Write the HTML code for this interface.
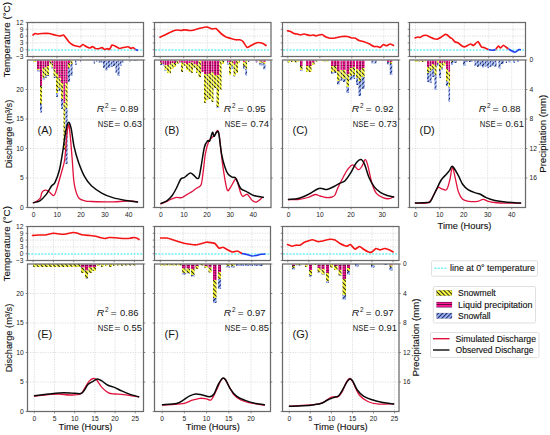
<!DOCTYPE html>
<html><head><meta charset="utf-8"><style>
html,body{margin:0;padding:0;background:#fff;width:550px;height:435px;overflow:hidden}
svg{display:block}

</style></head><body>
<svg width="550" height="435" viewBox="0 0 550 435">
<defs>
<pattern id="pY" patternUnits="userSpaceOnUse" width="3" height="3" patternTransform="rotate(-45)">
<rect width="3" height="3" fill="#fafa3c"/><rect x="0" y="0" width="0.95" height="3" fill="#1a1a1a"/></pattern>
<pattern id="pM" patternUnits="userSpaceOnUse" width="2.5" height="2.5">
<rect width="2.5" height="2.5" fill="#ff1a9a"/><rect x="0" y="0" width="2.5" height="0.55" fill="#2a0015" opacity="0.85"/><rect x="0" y="0" width="0.5" height="2.5" fill="#2a0015" opacity="0.65"/></pattern>
<pattern id="pB" patternUnits="userSpaceOnUse" width="3" height="3" patternTransform="rotate(45)">
<rect width="3" height="3" fill="#a0b6ff"/><rect x="0" y="0" width="1.1" height="3" fill="#1b2a5a"/></pattern>
<pattern id="pMl" patternUnits="userSpaceOnUse" width="16" height="2.6">
<rect width="16" height="2.6" fill="#ff1a9a"/><rect x="0" y="0" width="16" height="0.8" fill="#3a0020"/></pattern>

<clipPath id="ctA"><rect x="27.5" y="22.5" width="116" height="34"/></clipPath>
<clipPath id="cqA"><rect x="27.5" y="60" width="116" height="147.5"/></clipPath>
<clipPath id="ctB"><rect x="154.5" y="22.5" width="116.5" height="34"/></clipPath>
<clipPath id="cqB"><rect x="154.5" y="60" width="116.5" height="147.5"/></clipPath>
<clipPath id="ctC"><rect x="282.5" y="22.5" width="116" height="34"/></clipPath>
<clipPath id="cqC"><rect x="282.5" y="60" width="116" height="147.5"/></clipPath>
<clipPath id="ctD"><rect x="409.5" y="22.5" width="116" height="34"/></clipPath>
<clipPath id="cqD"><rect x="409.5" y="60" width="116" height="147.5"/></clipPath>
<clipPath id="ctE"><rect x="27.5" y="226.5" width="116" height="34"/></clipPath>
<clipPath id="cqE"><rect x="27.5" y="264" width="116" height="147.5"/></clipPath>
<clipPath id="ctF"><rect x="154.5" y="226.5" width="116" height="34"/></clipPath>
<clipPath id="cqF"><rect x="154.5" y="264" width="116" height="147.5"/></clipPath>
<clipPath id="ctG"><rect x="282.5" y="226.5" width="116.5" height="34"/></clipPath>
<clipPath id="cqG"><rect x="282.5" y="264" width="116.5" height="147.5"/></clipPath>
</defs>
<rect width="550" height="435" fill="#fff"/>
<g stroke="#d8d8d8" stroke-width="0.8" stroke-dasharray="1.3,1.2"><line x1="27.5" y1="29.3" x2="143.5" y2="29.3"/><line x1="27.5" y1="36.1" x2="143.5" y2="36.1"/><line x1="27.5" y1="42.9" x2="143.5" y2="42.9"/><line x1="32.8" y1="22.5" x2="32.8" y2="56.5"/><line x1="56.9" y1="22.5" x2="56.9" y2="56.5"/><line x1="81" y1="22.5" x2="81" y2="56.5"/><line x1="105.1" y1="22.5" x2="105.1" y2="56.5"/><line x1="129.2" y1="22.5" x2="129.2" y2="56.5"/></g>
<line x1="28" y1="50" x2="143" y2="50" stroke="#70f0f4" stroke-width="1.6" stroke-dasharray="2,1.3"/>
<clipPath id="csAr"><rect x="27.5" y="19.5" width="108" height="40"/><rect x="999" y="19.5" width="-439" height="40"/></clipPath>
<path d="M32.5,35.5 C32.67,35.37 34.67,33.6 35,33.5 C35.33,33.4 37.03,34 37.5,34 C37.97,34 41.23,33.53 42,33.5 C42.77,33.47 48.13,33.4 49,33.5 C49.87,33.6 54.27,34.83 55,35 C55.73,35.17 59.43,36 60,36 C60.57,36 63.1,34.87 63.5,35 C63.9,35.13 65.63,37.53 66,38 C66.37,38.47 68.53,41.53 69,42 C69.47,42.47 72.53,44.73 73,45 C73.47,45.27 75.53,45.88 76,46 C76.47,46.12 79.53,46.9 80,46.8 C80.47,46.7 82.57,44.5 83,44.5 C83.43,44.5 86.03,46.57 86.5,46.8 C86.97,47.03 89.6,48.02 90,48 C90.4,47.98 92.13,46.47 92.5,46.5 C92.87,46.53 95.03,48.37 95.5,48.5 C95.97,48.63 99.07,48.57 99.5,48.5 C99.93,48.43 101.67,47.43 102,47.5 C102.33,47.57 104.13,49.43 104.5,49.5 C104.87,49.57 107.17,48.5 107.5,48.5 C107.83,48.5 109.2,49.73 109.5,49.5 C109.8,49.27 111.63,45.23 112,45 C112.37,44.77 114.5,45.77 115,46 C115.5,46.23 118.93,48.4 119.5,48.5 C120.07,48.6 122.93,47.61 123.5,47.5 C124.07,47.39 127.5,46.73 128,46.8 C128.5,46.87 130.67,48.45 131,48.5 C131.33,48.55 132.7,47.43 133,47.5 C133.3,47.57 135.17,49.3 135.5,49.5 C135.83,49.7 137.83,50.43 138,50.5" fill="none" stroke="#f51414" stroke-width="1.65" stroke-linejoin="round" stroke-linecap="butt" clip-path="url(#csAr)"/>
<clipPath id="csAb"><rect x="135.5" y="19.5" width="424.5" height="40"/></clipPath>
<path d="M32.5,35.5 C32.67,35.37 34.67,33.6 35,33.5 C35.33,33.4 37.03,34 37.5,34 C37.97,34 41.23,33.53 42,33.5 C42.77,33.47 48.13,33.4 49,33.5 C49.87,33.6 54.27,34.83 55,35 C55.73,35.17 59.43,36 60,36 C60.57,36 63.1,34.87 63.5,35 C63.9,35.13 65.63,37.53 66,38 C66.37,38.47 68.53,41.53 69,42 C69.47,42.47 72.53,44.73 73,45 C73.47,45.27 75.53,45.88 76,46 C76.47,46.12 79.53,46.9 80,46.8 C80.47,46.7 82.57,44.5 83,44.5 C83.43,44.5 86.03,46.57 86.5,46.8 C86.97,47.03 89.6,48.02 90,48 C90.4,47.98 92.13,46.47 92.5,46.5 C92.87,46.53 95.03,48.37 95.5,48.5 C95.97,48.63 99.07,48.57 99.5,48.5 C99.93,48.43 101.67,47.43 102,47.5 C102.33,47.57 104.13,49.43 104.5,49.5 C104.87,49.57 107.17,48.5 107.5,48.5 C107.83,48.5 109.2,49.73 109.5,49.5 C109.8,49.27 111.63,45.23 112,45 C112.37,44.77 114.5,45.77 115,46 C115.5,46.23 118.93,48.4 119.5,48.5 C120.07,48.6 122.93,47.61 123.5,47.5 C124.07,47.39 127.5,46.73 128,46.8 C128.5,46.87 130.67,48.45 131,48.5 C131.33,48.55 132.7,47.43 133,47.5 C133.3,47.57 135.17,49.3 135.5,49.5 C135.83,49.7 137.83,50.43 138,50.5" fill="none" stroke="#1f3ff0" stroke-width="1.65" stroke-linejoin="round" stroke-linecap="butt" clip-path="url(#csAb)"/>
<rect x="27.5" y="22.5" width="116" height="34" fill="none" stroke="#6a6a6a" stroke-width="1.25"/>
<g stroke="#6a6a6a" stroke-width="0.8"><line x1="25.7" y1="22.5" x2="27.5" y2="22.5"/><line x1="25.7" y1="29.3" x2="27.5" y2="29.3"/><line x1="25.7" y1="36.1" x2="27.5" y2="36.1"/><line x1="25.7" y1="42.9" x2="27.5" y2="42.9"/><line x1="25.7" y1="49.7" x2="27.5" y2="49.7"/><line x1="25.7" y1="56.5" x2="27.5" y2="56.5"/><line x1="32.8" y1="56.5" x2="32.8" y2="58.3"/><line x1="56.9" y1="56.5" x2="56.9" y2="58.3"/><line x1="81" y1="56.5" x2="81" y2="58.3"/><line x1="105.1" y1="56.5" x2="105.1" y2="58.3"/><line x1="129.2" y1="56.5" x2="129.2" y2="58.3"/></g>
<g font-family="Liberation Sans, sans-serif" font-size="6.7" fill="#222"><text x="23.5" y="24.8" text-anchor="end">12</text><text x="23.5" y="31.6" text-anchor="end">9</text><text x="23.5" y="38.4" text-anchor="end">6</text><text x="23.5" y="45.2" text-anchor="end">3</text><text x="23.5" y="52" text-anchor="end">0</text><text x="23.5" y="58.8" text-anchor="end">−3</text></g>
<g stroke="#d8d8d8" stroke-width="0.8" stroke-dasharray="1.3,1.2"><line x1="27.5" y1="178" x2="143.5" y2="178"/><line x1="27.5" y1="148.5" x2="143.5" y2="148.5"/><line x1="27.5" y1="119" x2="143.5" y2="119"/><line x1="27.5" y1="89.5" x2="143.5" y2="89.5"/><line x1="33.5" y1="60" x2="33.5" y2="207.5"/><line x1="57.3" y1="60" x2="57.3" y2="207.5"/><line x1="81.1" y1="60" x2="81.1" y2="207.5"/><line x1="104.9" y1="60" x2="104.9" y2="207.5"/><line x1="128.7" y1="60" x2="128.7" y2="207.5"/></g>
<g clip-path="url(#cqA)"><rect x="33.5" y="60.5" width="2.55" height="1.5" fill="url(#pY)"/><rect x="37" y="60.5" width="2.55" height="8.5" fill="url(#pM)"/><rect x="37" y="69" width="2.55" height="1" fill="url(#pY)"/><rect x="37" y="70" width="2.55" height="1.5" fill="url(#pB)"/><rect x="40" y="60.5" width="2.05" height="25.5" fill="url(#pM)"/><rect x="40" y="86" width="2.05" height="18" fill="url(#pY)"/><rect x="40" y="104" width="2.05" height="8.5" fill="url(#pB)"/><rect x="42.5" y="60.5" width="2.05" height="7.5" fill="url(#pM)"/><rect x="42.5" y="68" width="2.05" height="10" fill="url(#pY)"/><rect x="42.5" y="78" width="2.05" height="1.5" fill="url(#pB)"/><rect x="45" y="60.5" width="1.55" height="6.5" fill="url(#pM)"/><rect x="45" y="67" width="1.55" height="9" fill="url(#pY)"/><rect x="45" y="76" width="1.55" height="2" fill="url(#pB)"/><rect x="47" y="60.5" width="2.05" height="5.5" fill="url(#pM)"/><rect x="47" y="66" width="2.05" height="9" fill="url(#pY)"/><rect x="47" y="75" width="2.05" height="1" fill="url(#pB)"/><rect x="49.5" y="60.5" width="1.55" height="4.1" fill="url(#pY)"/><rect x="51.5" y="60.5" width="1.55" height="2.5" fill="url(#pM)"/><rect x="51.5" y="63" width="1.55" height="4.5" fill="url(#pY)"/><rect x="51.5" y="67.5" width="1.55" height="1" fill="url(#pB)"/><rect x="53.5" y="60.5" width="2.05" height="8.5" fill="url(#pM)"/><rect x="53.5" y="69" width="2.05" height="7.5" fill="url(#pY)"/><rect x="53.5" y="76.5" width="2.05" height="1.5" fill="url(#pB)"/><rect x="56" y="60.5" width="2.05" height="12.5" fill="url(#pM)"/><rect x="56" y="73" width="2.05" height="20" fill="url(#pY)"/><rect x="56" y="93" width="2.05" height="4" fill="url(#pB)"/><rect x="58.5" y="60.5" width="2.05" height="17.5" fill="url(#pM)"/><rect x="58.5" y="78" width="2.05" height="10" fill="url(#pY)"/><rect x="58.5" y="88" width="2.05" height="3" fill="url(#pB)"/><rect x="61" y="60.5" width="2.05" height="22.5" fill="url(#pM)"/><rect x="61" y="83" width="2.05" height="16" fill="url(#pY)"/><rect x="61" y="99" width="2.05" height="10" fill="url(#pB)"/><rect x="63.5" y="60.5" width="1.55" height="42.5" fill="url(#pM)"/><rect x="63.5" y="103" width="1.55" height="46" fill="url(#pY)"/><rect x="63.5" y="149" width="1.55" height="1" fill="url(#pB)"/><rect x="65.5" y="60.5" width="2.05" height="22.5" fill="url(#pM)"/><rect x="65.5" y="83" width="2.05" height="25" fill="url(#pY)"/><rect x="65.5" y="108" width="2.05" height="56" fill="url(#pB)"/><rect x="68" y="60.5" width="2.05" height="2.5" fill="url(#pM)"/><rect x="68" y="63" width="2.05" height="5" fill="url(#pY)"/><rect x="68" y="68" width="2.05" height="14" fill="url(#pB)"/><rect x="70.5" y="60.5" width="2.05" height="3.5" fill="url(#pY)"/><rect x="70.5" y="64" width="2.05" height="12" fill="url(#pB)"/><rect x="75" y="60.5" width="1.55" height="4.5" fill="url(#pB)"/><rect x="80" y="60.5" width="1.05" height="1.5" fill="url(#pB)"/><rect x="93.5" y="60.5" width="1.55" height="3" fill="url(#pB)"/><rect x="96" y="60.5" width="1.55" height="1" fill="url(#pB)"/><rect x="98.5" y="60.5" width="2.05" height="2" fill="url(#pB)"/><rect x="101" y="60.5" width="1.55" height="2.5" fill="url(#pB)"/><rect x="103" y="60.5" width="2.05" height="7.5" fill="url(#pB)"/><rect x="105.5" y="60.5" width="2.05" height="10" fill="url(#pB)"/><rect x="108" y="60.5" width="2.05" height="7.5" fill="url(#pB)"/><rect x="110.5" y="60.5" width="2.05" height="6.5" fill="url(#pB)"/><rect x="113" y="60.5" width="2.05" height="5.5" fill="url(#pB)"/><rect x="115.5" y="60.5" width="1.55" height="12.5" fill="url(#pB)"/><rect x="117.5" y="60.5" width="2.05" height="15.5" fill="url(#pB)"/><rect x="120" y="60.5" width="1.55" height="5.5" fill="url(#pB)"/><rect x="122" y="60.5" width="1.55" height="2.5" fill="url(#pB)"/><rect x="129" y="60.5" width="1.55" height="1" fill="url(#pB)"/><rect x="133" y="60.5" width="4.55" height="0.5" fill="url(#pB)"/></g>
<path d="M33.4,203 C34.48,202.28 38.47,200.48 39.9,198.7 C41.33,196.92 41.12,193.73 42,192.3 C42.88,190.87 44.12,190.28 45.2,190.1 C46.28,189.92 47.07,190.3 48.5,191.2 C49.93,192.1 52.38,196.03 53.8,195.5 C55.22,194.97 55.75,191.75 57,188 C58.25,184.25 60.03,177.67 61.3,173 C62.57,168.33 63.7,166.08 64.6,160 C65.5,153.92 66.07,142.38 66.7,136.5 C67.33,130.62 67.87,125.42 68.4,124.7 C68.93,123.98 69.28,126.67 69.9,132.2 C70.52,137.73 71.38,149.32 72.1,157.9 C72.82,166.48 73.13,177.08 74.2,183.7 C75.27,190.32 76.72,194.75 78.5,197.6 C80.28,200.45 82.75,200.15 84.9,200.8 C87.05,201.45 86.75,201.32 91.4,201.5 C96.05,201.68 106.37,202.02 112.8,201.9 C119.23,201.78 125.88,200.8 130,200.8 C134.12,200.8 136.25,201.72 137.5,201.9" fill="none" stroke="#e0123c" stroke-width="1.3" stroke-linejoin="round" stroke-linecap="round" clip-path="url(#cqA)"/>
<path d="M33.4,202.6 C34.48,202.3 37.75,202.17 39.9,200.8 C42.05,199.43 44.33,196.9 46.3,194.4 C48.27,191.9 50.27,187.77 51.7,185.8 C53.13,183.83 53.65,185.1 54.9,182.6 C56.15,180.1 57.95,175.63 59.2,170.8 C60.45,165.97 61.33,160.03 62.4,153.6 C63.47,147.17 64.63,137.38 65.6,132.2 C66.57,127.02 67.3,123.22 68.2,122.5 C69.1,121.78 70,123.78 71,127.9 C72,132.02 72.95,141.48 74.2,147.2 C75.45,152.92 76.72,157.2 78.5,162.2 C80.28,167.2 82.75,173.27 84.9,177.2 C87.05,181.13 88.53,183.12 91.4,185.8 C94.27,188.48 98.53,191.33 102.1,193.3 C105.67,195.27 108.87,196.42 112.8,197.6 C116.73,198.78 121.58,199.68 125.7,200.4 C129.82,201.12 135.53,201.65 137.5,201.9" fill="none" stroke="#0a0a0a" stroke-width="1.5" stroke-linejoin="round" stroke-linecap="round" clip-path="url(#cqA)"/>
<rect x="27.5" y="60" width="116" height="147.5" fill="none" stroke="#6a6a6a" stroke-width="1.25"/>
<g stroke="#6a6a6a" stroke-width="0.8"><line x1="25.7" y1="207.5" x2="27.5" y2="207.5"/><line x1="25.7" y1="178" x2="27.5" y2="178"/><line x1="25.7" y1="148.5" x2="27.5" y2="148.5"/><line x1="25.7" y1="119" x2="27.5" y2="119"/><line x1="25.7" y1="89.5" x2="27.5" y2="89.5"/><line x1="143.5" y1="60" x2="145.3" y2="60"/><line x1="143.5" y1="89.5" x2="145.3" y2="89.5"/><line x1="143.5" y1="119" x2="145.3" y2="119"/><line x1="143.5" y1="148.5" x2="145.3" y2="148.5"/><line x1="143.5" y1="178" x2="145.3" y2="178"/><line x1="33.5" y1="207.5" x2="33.5" y2="209.3"/><line x1="57.3" y1="207.5" x2="57.3" y2="209.3"/><line x1="81.1" y1="207.5" x2="81.1" y2="209.3"/><line x1="104.9" y1="207.5" x2="104.9" y2="209.3"/><line x1="128.7" y1="207.5" x2="128.7" y2="209.3"/></g>
<g font-family="Liberation Sans, sans-serif" font-size="6.7" fill="#222"><text x="33.5" y="217.1" text-anchor="middle">0</text><text x="57.3" y="217.1" text-anchor="middle">10</text><text x="81.1" y="217.1" text-anchor="middle">20</text><text x="104.9" y="217.1" text-anchor="middle">30</text><text x="128.7" y="217.1" text-anchor="middle">40</text></g>
<g font-family="Liberation Sans, sans-serif" font-size="6.7" fill="#222"><text x="23.8" y="209.9" text-anchor="end">0</text><text x="23.8" y="180.4" text-anchor="end">5</text><text x="23.8" y="150.9" text-anchor="end">10</text><text x="23.8" y="121.4" text-anchor="end">15</text><text x="23.8" y="91.9" text-anchor="end">20</text></g>
<g font-family="Liberation Sans, sans-serif" fill="#161616">
<text font-size="9.5" font-style="italic" x="96.8" y="112" textLength="7.5" lengthAdjust="spacingAndGlyphs">R</text>
<text font-size="6.4" x="105.1" y="108.3">2</text>
<text font-size="9.5" x="111.1" y="112" fill="#6a6a6a" stroke="#6a6a6a" stroke-width="0.3" textLength="5.3" lengthAdjust="spacingAndGlyphs">=</text>
<text font-size="9.5" x="120" y="112" textLength="18.4" lengthAdjust="spacingAndGlyphs">0.89</text>
<text font-size="9" x="97.8" y="126.5" textLength="15.7" lengthAdjust="spacingAndGlyphs">NSE</text>
<text font-size="9.5" x="114.7" y="126.5" fill="#6a6a6a" stroke="#6a6a6a" stroke-width="0.3" textLength="5.3" lengthAdjust="spacingAndGlyphs">=</text>
<text font-size="9.5" x="123.5" y="126.5" textLength="18.4" lengthAdjust="spacingAndGlyphs">0.63</text>
</g>
<text font-family="Liberation Sans, sans-serif" font-size="11" fill="#161616" x="37.5" y="134">(A)</text>
<g stroke="#d8d8d8" stroke-width="0.8" stroke-dasharray="1.3,1.2"><line x1="154.5" y1="29.3" x2="271" y2="29.3"/><line x1="154.5" y1="36.1" x2="271" y2="36.1"/><line x1="154.5" y1="42.9" x2="271" y2="42.9"/><line x1="160.2" y1="22.5" x2="160.2" y2="56.5"/><line x1="183.7" y1="22.5" x2="183.7" y2="56.5"/><line x1="207.2" y1="22.5" x2="207.2" y2="56.5"/><line x1="230.7" y1="22.5" x2="230.7" y2="56.5"/><line x1="254.2" y1="22.5" x2="254.2" y2="56.5"/></g>
<line x1="155" y1="50" x2="270.5" y2="50" stroke="#70f0f4" stroke-width="1.6" stroke-dasharray="2,1.3"/>
<path d="M160,37.2 C160.4,37.02 165.13,34.91 166,34.5 C166.87,34.09 172.2,31.3 173,31 C173.8,30.7 177.47,30.03 178,30 C178.53,29.97 180.53,30.51 181,30.5 C181.47,30.49 184.47,29.8 185,29.8 C185.53,29.8 188.47,30.47 189,30.5 C189.53,30.53 192.27,30.35 193,30.2 C193.73,30.05 199.07,28.41 200,28.2 C200.93,27.99 206.2,26.95 207,27 C207.8,27.05 211.4,28.9 212,29 C212.6,29.1 215.4,28.2 216,28.5 C216.6,28.8 220.33,32.93 221,33.5 C221.67,34.07 225.33,36.67 226,37 C226.67,37.33 230.33,38.31 231,38.5 C231.67,38.69 235.43,39.71 236,39.8 C236.57,39.89 239.03,39.69 239.5,39.8 C239.97,39.91 242.5,40.99 243,41.5 C243.5,42.01 246.47,47.23 247,47.5 C247.53,47.77 250.47,45.77 251,45.5 C251.53,45.23 254.53,43.7 255,43.5 C255.47,43.3 257.47,42.5 258,42.5 C258.53,42.5 262.47,43.3 263,43.5 C263.53,43.7 265.8,45.37 266,45.5" fill="none" stroke="#f51414" stroke-width="1.65" stroke-linejoin="round" stroke-linecap="round" clip-path="url(#ctB)"/>
<rect x="154.5" y="22.5" width="116.5" height="34" fill="none" stroke="#6a6a6a" stroke-width="1.25"/>
<g stroke="#6a6a6a" stroke-width="0.8"><line x1="152.7" y1="22.5" x2="154.5" y2="22.5"/><line x1="152.7" y1="29.3" x2="154.5" y2="29.3"/><line x1="152.7" y1="36.1" x2="154.5" y2="36.1"/><line x1="152.7" y1="42.9" x2="154.5" y2="42.9"/><line x1="152.7" y1="49.7" x2="154.5" y2="49.7"/><line x1="152.7" y1="56.5" x2="154.5" y2="56.5"/><line x1="160.2" y1="56.5" x2="160.2" y2="58.3"/><line x1="183.7" y1="56.5" x2="183.7" y2="58.3"/><line x1="207.2" y1="56.5" x2="207.2" y2="58.3"/><line x1="230.7" y1="56.5" x2="230.7" y2="58.3"/><line x1="254.2" y1="56.5" x2="254.2" y2="58.3"/></g>
<g stroke="#d8d8d8" stroke-width="0.8" stroke-dasharray="1.3,1.2"><line x1="154.5" y1="178" x2="271" y2="178"/><line x1="154.5" y1="148.5" x2="271" y2="148.5"/><line x1="154.5" y1="119" x2="271" y2="119"/><line x1="154.5" y1="89.5" x2="271" y2="89.5"/><line x1="160.9" y1="60" x2="160.9" y2="207.5"/><line x1="184" y1="60" x2="184" y2="207.5"/><line x1="207.1" y1="60" x2="207.1" y2="207.5"/><line x1="230.2" y1="60" x2="230.2" y2="207.5"/><line x1="253.3" y1="60" x2="253.3" y2="207.5"/></g>
<g clip-path="url(#cqB)"><rect x="160" y="60.5" width="2.05" height="2" fill="url(#pM)"/><rect x="160" y="62.5" width="2.05" height="1.5" fill="url(#pY)"/><rect x="160" y="64" width="2.05" height="1" fill="url(#pB)"/><rect x="162.5" y="60.5" width="1.55" height="3.5" fill="url(#pM)"/><rect x="162.5" y="64" width="1.55" height="1.5" fill="url(#pB)"/><rect x="164.5" y="60.5" width="2.05" height="4.5" fill="url(#pM)"/><rect x="164.5" y="65" width="2.05" height="5" fill="url(#pY)"/><rect x="164.5" y="70" width="2.05" height="1" fill="url(#pB)"/><rect x="167" y="60.5" width="2.05" height="4.5" fill="url(#pM)"/><rect x="167" y="65" width="2.05" height="8" fill="url(#pY)"/><rect x="169.5" y="60.5" width="1.55" height="3.5" fill="url(#pM)"/><rect x="169.5" y="64" width="1.55" height="9.5" fill="url(#pY)"/><rect x="171.5" y="60.5" width="2.05" height="2.5" fill="url(#pM)"/><rect x="171.5" y="63" width="2.05" height="6" fill="url(#pY)"/><rect x="174" y="60.5" width="2.05" height="2.5" fill="url(#pM)"/><rect x="174" y="63" width="2.05" height="4" fill="url(#pY)"/><rect x="176.5" y="60.5" width="2.05" height="3.5" fill="url(#pY)"/><rect x="179" y="60.5" width="1.55" height="2" fill="url(#pM)"/><rect x="181" y="60.5" width="2.05" height="2" fill="url(#pM)"/><rect x="181" y="62.5" width="2.05" height="9.5" fill="url(#pY)"/><rect x="183.5" y="60.5" width="2.05" height="2.5" fill="url(#pM)"/><rect x="183.5" y="63" width="2.05" height="3" fill="url(#pY)"/><rect x="186" y="60.5" width="2.05" height="3.5" fill="url(#pM)"/><rect x="186" y="64" width="2.05" height="6" fill="url(#pY)"/><rect x="188.5" y="60.5" width="2.05" height="2.5" fill="url(#pM)"/><rect x="188.5" y="63" width="2.05" height="9" fill="url(#pY)"/><rect x="191" y="60.5" width="2.05" height="2" fill="url(#pM)"/><rect x="191" y="62.5" width="2.05" height="10.5" fill="url(#pY)"/><rect x="193.5" y="60.5" width="2.05" height="3.5" fill="url(#pM)"/><rect x="193.5" y="64" width="2.05" height="4" fill="url(#pY)"/><rect x="196" y="60.5" width="2.05" height="4.3" fill="url(#pM)"/><rect x="196" y="64.8" width="2.05" height="8.1" fill="url(#pY)"/><rect x="198.5" y="60.5" width="2.55" height="16.7" fill="url(#pY)"/><rect x="201.5" y="60.5" width="2.05" height="11.5" fill="url(#pM)"/><rect x="204" y="60.5" width="2.05" height="13.5" fill="url(#pM)"/><rect x="204" y="74" width="2.05" height="29" fill="url(#pY)"/><rect x="206.5" y="60.5" width="2.05" height="13.5" fill="url(#pM)"/><rect x="206.5" y="74" width="2.05" height="26" fill="url(#pY)"/><rect x="209" y="60.5" width="2.05" height="12.5" fill="url(#pM)"/><rect x="209" y="73" width="2.05" height="26" fill="url(#pY)"/><rect x="211.5" y="60.5" width="2.05" height="11.5" fill="url(#pM)"/><rect x="211.5" y="72" width="2.05" height="30" fill="url(#pY)"/><rect x="214" y="60.5" width="2.05" height="14.5" fill="url(#pM)"/><rect x="214" y="75" width="2.05" height="13" fill="url(#pY)"/><rect x="216.5" y="60.5" width="2.55" height="14.5" fill="url(#pM)"/><rect x="216.5" y="75" width="2.55" height="32" fill="url(#pY)"/><rect x="216.5" y="107" width="2.55" height="1" fill="url(#pB)"/><rect x="219.5" y="60.5" width="2.05" height="29.5" fill="url(#pY)"/><rect x="222" y="60.5" width="2.05" height="3.5" fill="url(#pY)"/><rect x="227" y="60.5" width="1.55" height="1.5" fill="url(#pM)"/><rect x="227" y="62" width="1.55" height="3" fill="url(#pB)"/><rect x="229" y="60.5" width="2.05" height="1.5" fill="url(#pM)"/><rect x="229" y="62" width="2.05" height="13" fill="url(#pY)"/><rect x="231.5" y="60.5" width="1.55" height="5.5" fill="url(#pY)"/><rect x="231.5" y="66" width="1.55" height="3" fill="url(#pB)"/><rect x="233.5" y="60.5" width="2.05" height="3.5" fill="url(#pM)"/><rect x="233.5" y="64" width="2.05" height="12" fill="url(#pY)"/><rect x="233.5" y="76" width="2.05" height="0.5" fill="url(#pB)"/><rect x="236" y="60.5" width="2.05" height="12.5" fill="url(#pY)"/><rect x="238.5" y="60.5" width="1.55" height="2.5" fill="url(#pY)"/><rect x="243" y="60.5" width="1.85" height="1.5" fill="url(#pM)"/><rect x="243" y="62" width="1.85" height="4" fill="url(#pY)"/><rect x="243" y="66" width="1.85" height="3" fill="url(#pB)"/><rect x="245.3" y="60.5" width="1.75" height="8.5" fill="url(#pY)"/><rect x="245.3" y="69" width="1.75" height="6.6" fill="url(#pB)"/><rect x="247.9" y="60.5" width="1.35" height="1.5" fill="url(#pB)"/><rect x="255.6" y="60.5" width="1.75" height="1" fill="url(#pM)"/><rect x="255.6" y="61.5" width="1.75" height="0.9" fill="url(#pB)"/><rect x="259.3" y="60.5" width="3.25" height="1" fill="url(#pM)"/><rect x="259.3" y="61.5" width="3.25" height="1.5" fill="url(#pY)"/><rect x="259.3" y="63" width="3.25" height="2.4" fill="url(#pB)"/><rect x="263.3" y="60.5" width="2.15" height="1.5" fill="url(#pM)"/><rect x="263.3" y="62" width="2.15" height="2" fill="url(#pY)"/><rect x="263.3" y="64" width="2.15" height="5.4" fill="url(#pB)"/></g>
<path d="M161,204 C162.15,203.47 165.5,201.87 167.9,200.8 C170.3,199.73 173.08,198.13 175.4,197.6 C177.72,197.07 179.83,198.13 181.8,197.6 C183.77,197.07 185.4,195.47 187.2,194.4 C189,193.33 191,192.27 192.6,191.2 C194.2,190.13 195.38,189.08 196.8,188 C198.22,186.92 200.02,187.57 201.1,184.7 C202.18,181.83 202.58,175.98 203.3,170.8 C204.02,165.62 204.52,158.43 205.4,153.6 C206.28,148.77 207.52,144.48 208.6,141.8 C209.68,139.12 210.82,138.75 211.9,137.5 C212.98,136.25 214.13,135.47 215.1,134.3 C216.07,133.13 216.98,130.13 217.7,130.5 C218.42,130.87 218.58,130.85 219.4,136.5 C220.22,142.15 221.35,155.65 222.6,164.4 C223.85,173.15 225.65,185.07 226.9,189 C228.15,192.93 228.85,189.42 230.1,188 C231.35,186.58 233.33,181.93 234.4,180.5 C235.47,179.07 235.43,177.27 236.5,179.4 C237.57,181.53 239.72,190.45 240.8,193.3 C241.88,196.15 241.92,196.32 243,196.5 C244.08,196.68 245.7,193.68 247.3,194.4 C248.9,195.12 251,199.55 252.6,200.8 C254.2,202.05 255.28,202.43 256.9,201.9 C258.52,201.37 261.4,198.32 262.3,197.6" fill="none" stroke="#e0123c" stroke-width="1.3" stroke-linejoin="round" stroke-linecap="round" clip-path="url(#cqB)"/>
<path d="M161,203.4 C161.97,202.97 164.93,202.12 166.8,200.8 C168.67,199.48 170.58,197.63 172.2,195.5 C173.82,193.37 175.07,190.75 176.5,188 C177.93,185.25 179.55,180.72 180.8,179 C182.05,177.28 182.93,178.35 184,177.7 C185.07,177.05 186.13,175.9 187.2,175.1 C188.27,174.3 189.33,172.9 190.4,172.9 C191.47,172.9 192.53,174.2 193.6,175.1 C194.67,176 195.9,177.95 196.8,178.3 C197.7,178.65 198.28,179.17 199,177.2 C199.72,175.23 200.2,171.5 201.1,166.5 C202,161.5 203.32,151.48 204.4,147.2 C205.48,142.92 206.72,141.87 207.6,140.8 C208.48,139.73 208.88,142.23 209.7,140.8 C210.52,139.37 211.78,132.92 212.5,132.2 C213.22,131.48 213.32,136.5 214,136.5 C214.68,136.5 215.82,132.75 216.6,132.2 C217.38,131.65 217.88,129.63 218.7,133.2 C219.52,136.77 220.5,148.05 221.5,153.6 C222.5,159.15 223.62,163.1 224.7,166.5 C225.78,169.9 226.73,172.22 228,174 C229.27,175.78 231.02,176.48 232.3,177.2 C233.58,177.92 234.33,176.45 235.7,178.3 C237.07,180.15 239.12,186.3 240.5,188.3 C241.88,190.3 242.73,189.6 244,190.3 C245.27,191 246.5,191.63 248.1,192.5 C249.7,193.37 251.07,194.7 253.6,195.5 C256.13,196.3 261.68,197 263.3,197.3" fill="none" stroke="#0a0a0a" stroke-width="1.5" stroke-linejoin="round" stroke-linecap="round" clip-path="url(#cqB)"/>
<rect x="154.5" y="60" width="116.5" height="147.5" fill="none" stroke="#6a6a6a" stroke-width="1.25"/>
<g stroke="#6a6a6a" stroke-width="0.8"><line x1="152.7" y1="207.5" x2="154.5" y2="207.5"/><line x1="152.7" y1="178" x2="154.5" y2="178"/><line x1="152.7" y1="148.5" x2="154.5" y2="148.5"/><line x1="152.7" y1="119" x2="154.5" y2="119"/><line x1="152.7" y1="89.5" x2="154.5" y2="89.5"/><line x1="271" y1="60" x2="272.8" y2="60"/><line x1="271" y1="89.5" x2="272.8" y2="89.5"/><line x1="271" y1="119" x2="272.8" y2="119"/><line x1="271" y1="148.5" x2="272.8" y2="148.5"/><line x1="271" y1="178" x2="272.8" y2="178"/><line x1="160.9" y1="207.5" x2="160.9" y2="209.3"/><line x1="184" y1="207.5" x2="184" y2="209.3"/><line x1="207.1" y1="207.5" x2="207.1" y2="209.3"/><line x1="230.2" y1="207.5" x2="230.2" y2="209.3"/><line x1="253.3" y1="207.5" x2="253.3" y2="209.3"/></g>
<g font-family="Liberation Sans, sans-serif" font-size="6.7" fill="#222"><text x="160.9" y="217.1" text-anchor="middle">0</text><text x="184" y="217.1" text-anchor="middle">10</text><text x="207.1" y="217.1" text-anchor="middle">20</text><text x="230.2" y="217.1" text-anchor="middle">30</text><text x="253.3" y="217.1" text-anchor="middle">40</text></g>
<g font-family="Liberation Sans, sans-serif" fill="#161616">
<text font-size="9.5" font-style="italic" x="223.8" y="112" textLength="7.5" lengthAdjust="spacingAndGlyphs">R</text>
<text font-size="6.4" x="232.1" y="108.3">2</text>
<text font-size="9.5" x="238.1" y="112" fill="#6a6a6a" stroke="#6a6a6a" stroke-width="0.3" textLength="5.3" lengthAdjust="spacingAndGlyphs">=</text>
<text font-size="9.5" x="247" y="112" textLength="18.4" lengthAdjust="spacingAndGlyphs">0.95</text>
<text font-size="9" x="224.8" y="126.5" textLength="15.7" lengthAdjust="spacingAndGlyphs">NSE</text>
<text font-size="9.5" x="241.7" y="126.5" fill="#6a6a6a" stroke="#6a6a6a" stroke-width="0.3" textLength="5.3" lengthAdjust="spacingAndGlyphs">=</text>
<text font-size="9.5" x="250.5" y="126.5" textLength="18.4" lengthAdjust="spacingAndGlyphs">0.74</text>
</g>
<text font-family="Liberation Sans, sans-serif" font-size="11" fill="#161616" x="164.5" y="134">(B)</text>
<g stroke="#d8d8d8" stroke-width="0.8" stroke-dasharray="1.3,1.2"><line x1="282.5" y1="29.3" x2="398.5" y2="29.3"/><line x1="282.5" y1="36.1" x2="398.5" y2="36.1"/><line x1="282.5" y1="42.9" x2="398.5" y2="42.9"/><line x1="287.8" y1="22.5" x2="287.8" y2="56.5"/><line x1="319.8" y1="22.5" x2="319.8" y2="56.5"/><line x1="351.8" y1="22.5" x2="351.8" y2="56.5"/><line x1="383.8" y1="22.5" x2="383.8" y2="56.5"/></g>
<line x1="283" y1="50" x2="398" y2="50" stroke="#70f0f4" stroke-width="1.6" stroke-dasharray="2,1.3"/>
<path d="M287.5,30.8 C287.7,30.85 290.07,31.32 290.5,31.5 C290.93,31.68 293.57,33.33 294,33.5 C294.43,33.67 296.57,33.9 297,34 C297.43,34.1 300.03,35 300.5,35 C300.97,35 303.37,33.97 304,34 C304.63,34.03 309.4,35.43 310,35.5 C310.6,35.57 312.6,34.98 313,35 C313.4,35.02 315.6,35.8 316,35.8 C316.4,35.8 318.6,35.09 319,35 C319.4,34.91 321.53,34.37 322,34.5 C322.47,34.63 325.47,36.75 326,37 C326.53,37.25 329.4,38.13 330,38.2 C330.6,38.27 334.2,38.11 335,38 C335.8,37.89 341.17,36.6 342,36.5 C342.83,36.4 346.87,36.4 347.5,36.5 C348.13,36.6 351,37.9 351.5,38 C352,38.1 354.5,37.83 355,38 C355.5,38.17 358.4,40.25 359,40.5 C359.6,40.75 363.33,41.58 364,41.8 C364.67,42.02 368.33,43.49 369,43.8 C369.67,44.11 373.47,46.32 374,46.5 C374.53,46.68 376.6,46.43 377,46.5 C377.4,46.57 379.57,47.63 380,47.5 C380.43,47.37 383.07,44.61 383.5,44.5 C383.93,44.39 386.07,45.83 386.5,45.8 C386.93,45.77 389.53,44.02 390,44 C390.47,43.98 393.27,45.4 393.5,45.5" fill="none" stroke="#f51414" stroke-width="1.65" stroke-linejoin="round" stroke-linecap="round" clip-path="url(#ctC)"/>
<rect x="282.5" y="22.5" width="116" height="34" fill="none" stroke="#6a6a6a" stroke-width="1.25"/>
<g stroke="#6a6a6a" stroke-width="0.8"><line x1="280.7" y1="22.5" x2="282.5" y2="22.5"/><line x1="280.7" y1="29.3" x2="282.5" y2="29.3"/><line x1="280.7" y1="36.1" x2="282.5" y2="36.1"/><line x1="280.7" y1="42.9" x2="282.5" y2="42.9"/><line x1="280.7" y1="49.7" x2="282.5" y2="49.7"/><line x1="280.7" y1="56.5" x2="282.5" y2="56.5"/><line x1="287.8" y1="56.5" x2="287.8" y2="58.3"/><line x1="319.8" y1="56.5" x2="319.8" y2="58.3"/><line x1="351.8" y1="56.5" x2="351.8" y2="58.3"/><line x1="383.8" y1="56.5" x2="383.8" y2="58.3"/></g>
<g stroke="#d8d8d8" stroke-width="0.8" stroke-dasharray="1.3,1.2"><line x1="282.5" y1="178" x2="398.5" y2="178"/><line x1="282.5" y1="148.5" x2="398.5" y2="148.5"/><line x1="282.5" y1="119" x2="398.5" y2="119"/><line x1="282.5" y1="89.5" x2="398.5" y2="89.5"/><line x1="288.7" y1="60" x2="288.7" y2="207.5"/><line x1="319.9" y1="60" x2="319.9" y2="207.5"/><line x1="351.1" y1="60" x2="351.1" y2="207.5"/><line x1="382.3" y1="60" x2="382.3" y2="207.5"/></g>
<g clip-path="url(#cqC)"><rect x="287.5" y="60.5" width="2.55" height="2" fill="url(#pY)"/><rect x="291" y="60.5" width="2.55" height="1.5" fill="url(#pY)"/><rect x="294.5" y="60.5" width="2.05" height="2" fill="url(#pY)"/><rect x="297" y="60.5" width="1.55" height="1.5" fill="url(#pY)"/><rect x="300" y="60.5" width="2.55" height="5.5" fill="url(#pM)"/><rect x="300" y="66" width="2.55" height="4" fill="url(#pY)"/><rect x="300" y="70" width="2.55" height="1" fill="url(#pB)"/><rect x="306" y="60.5" width="2.55" height="5.5" fill="url(#pM)"/><rect x="306" y="66" width="2.55" height="6" fill="url(#pY)"/><rect x="309" y="60.5" width="2.55" height="5.5" fill="url(#pM)"/><rect x="309" y="66" width="2.55" height="6" fill="url(#pY)"/><rect x="312" y="60.5" width="2.55" height="2" fill="url(#pM)"/><rect x="312" y="62.5" width="2.55" height="2.5" fill="url(#pY)"/><rect x="315" y="60.5" width="2.55" height="1" fill="url(#pY)"/><rect x="322" y="60.5" width="2.55" height="1" fill="url(#pY)"/><rect x="325.5" y="60.5" width="3.05" height="1" fill="url(#pY)"/><rect x="331" y="60.5" width="2.55" height="5.5" fill="url(#pM)"/><rect x="331" y="66" width="2.55" height="6" fill="url(#pY)"/><rect x="331" y="72" width="2.55" height="2" fill="url(#pB)"/><rect x="334" y="60.5" width="2.55" height="5.5" fill="url(#pM)"/><rect x="334" y="66" width="2.55" height="6" fill="url(#pY)"/><rect x="334" y="72" width="2.55" height="1" fill="url(#pB)"/><rect x="337" y="60.5" width="2.55" height="10.5" fill="url(#pM)"/><rect x="337" y="71" width="2.55" height="10" fill="url(#pY)"/><rect x="337" y="81" width="2.55" height="3.5" fill="url(#pB)"/><rect x="340.5" y="60.5" width="2.05" height="9.5" fill="url(#pM)"/><rect x="340.5" y="70" width="2.05" height="8" fill="url(#pY)"/><rect x="340.5" y="78" width="2.05" height="3" fill="url(#pB)"/><rect x="343" y="60.5" width="2.55" height="9.5" fill="url(#pM)"/><rect x="343" y="70" width="2.55" height="9" fill="url(#pY)"/><rect x="343" y="79" width="2.55" height="3" fill="url(#pB)"/><rect x="346.5" y="60.5" width="2.55" height="13.5" fill="url(#pM)"/><rect x="346.5" y="74" width="2.55" height="13" fill="url(#pY)"/><rect x="346.5" y="87" width="2.55" height="6" fill="url(#pB)"/><rect x="349.5" y="60.5" width="2.55" height="7.5" fill="url(#pM)"/><rect x="349.5" y="68" width="2.55" height="8" fill="url(#pY)"/><rect x="349.5" y="76" width="2.55" height="4" fill="url(#pB)"/><rect x="352.5" y="60.5" width="2.55" height="6.5" fill="url(#pM)"/><rect x="352.5" y="67" width="2.55" height="8" fill="url(#pY)"/><rect x="352.5" y="75" width="2.55" height="4" fill="url(#pB)"/><rect x="356" y="60.5" width="2.05" height="8.5" fill="url(#pM)"/><rect x="356" y="69" width="2.05" height="9" fill="url(#pY)"/><rect x="356" y="78" width="2.05" height="7" fill="url(#pB)"/><rect x="358.5" y="60.5" width="2.55" height="9.5" fill="url(#pM)"/><rect x="358.5" y="70" width="2.55" height="11" fill="url(#pY)"/><rect x="358.5" y="81" width="2.55" height="15" fill="url(#pB)"/><rect x="361.5" y="60.5" width="3.05" height="7.5" fill="url(#pM)"/><rect x="361.5" y="68" width="3.05" height="9" fill="url(#pY)"/><rect x="361.5" y="77" width="3.05" height="12" fill="url(#pB)"/><rect x="371.5" y="60.5" width="2.05" height="3" fill="url(#pB)"/><rect x="374.5" y="60.5" width="2.05" height="3" fill="url(#pB)"/><rect x="387" y="60.5" width="2.35" height="1.5" fill="url(#pM)"/><rect x="387" y="62" width="2.35" height="2.5" fill="url(#pB)"/><rect x="389.8" y="60.5" width="2.45" height="1.5" fill="url(#pM)"/><rect x="389.8" y="62" width="2.45" height="2" fill="url(#pY)"/><rect x="389.8" y="64" width="2.45" height="11" fill="url(#pB)"/></g>
<path d="M288.5,199.5 C290.08,199.5 294.75,199.83 298,199.5 C301.25,199.17 305.17,198.33 308,197.5 C310.83,196.67 313,194.75 315,194.5 C317,194.25 318.17,195.5 320,196 C321.83,196.5 324,197.33 326,197.5 C328,197.67 330.5,197.42 332,197 C333.5,196.58 334.03,196.5 335,195 C335.97,193.5 336.43,190.97 337.8,188 C339.17,185.03 341.58,180.25 343.2,177.2 C344.82,174.15 345.9,171.77 347.5,169.7 C349.1,167.63 351.02,164.8 352.8,164.8 C354.58,164.8 356.7,169.42 358.2,169.7 C359.7,169.98 360.62,168.18 361.8,166.5 C362.98,164.82 364.3,159.78 365.3,159.6 C366.3,159.42 366.67,161.38 367.8,165.4 C368.93,169.42 370.67,179.05 372.1,183.7 C373.53,188.35 374.6,190.98 376.4,193.3 C378.2,195.62 380.75,196.7 382.9,197.6 C385.05,198.5 387.52,198.88 389.3,198.7 C391.08,198.52 392.88,196.87 393.6,196.5" fill="none" stroke="#e0123c" stroke-width="1.3" stroke-linejoin="round" stroke-linecap="round" clip-path="url(#cqC)"/>
<path d="M288.5,199.5 C290.08,199.33 295.25,199.08 298,198.5 C300.75,197.92 303,196.83 305,196 C307,195.17 307.83,194.7 310,193.5 C312.17,192.3 316,189.63 318,188.8 C320,187.97 320.5,188.38 322,188.5 C323.5,188.62 325,189.83 327,189.5 C329,189.17 331.83,187.55 334,186.5 C336.17,185.45 338.12,184.2 340,183.2 C341.88,182.2 343.52,182.22 345.3,180.5 C347.08,178.78 348.92,175.77 350.7,172.9 C352.48,170.03 354.28,165.52 356,163.3 C357.72,161.08 359.57,159.42 361,159.6 C362.43,159.78 363.28,161.47 364.6,164.4 C365.92,167.33 367.28,173.45 368.9,177.2 C370.52,180.95 372.33,184.32 374.3,186.9 C376.27,189.48 378.55,191.27 380.7,192.7 C382.85,194.13 385.05,194.78 387.2,195.5 C389.35,196.22 392.53,196.75 393.6,197" fill="none" stroke="#0a0a0a" stroke-width="1.5" stroke-linejoin="round" stroke-linecap="round" clip-path="url(#cqC)"/>
<rect x="282.5" y="60" width="116" height="147.5" fill="none" stroke="#6a6a6a" stroke-width="1.25"/>
<g stroke="#6a6a6a" stroke-width="0.8"><line x1="280.7" y1="207.5" x2="282.5" y2="207.5"/><line x1="280.7" y1="178" x2="282.5" y2="178"/><line x1="280.7" y1="148.5" x2="282.5" y2="148.5"/><line x1="280.7" y1="119" x2="282.5" y2="119"/><line x1="280.7" y1="89.5" x2="282.5" y2="89.5"/><line x1="398.5" y1="60" x2="400.3" y2="60"/><line x1="398.5" y1="89.5" x2="400.3" y2="89.5"/><line x1="398.5" y1="119" x2="400.3" y2="119"/><line x1="398.5" y1="148.5" x2="400.3" y2="148.5"/><line x1="398.5" y1="178" x2="400.3" y2="178"/><line x1="288.7" y1="207.5" x2="288.7" y2="209.3"/><line x1="319.9" y1="207.5" x2="319.9" y2="209.3"/><line x1="351.1" y1="207.5" x2="351.1" y2="209.3"/><line x1="382.3" y1="207.5" x2="382.3" y2="209.3"/></g>
<g font-family="Liberation Sans, sans-serif" font-size="6.7" fill="#222"><text x="288.7" y="217.1" text-anchor="middle">0</text><text x="319.9" y="217.1" text-anchor="middle">10</text><text x="351.1" y="217.1" text-anchor="middle">20</text><text x="382.3" y="217.1" text-anchor="middle">30</text></g>
<g font-family="Liberation Sans, sans-serif" fill="#161616">
<text font-size="9.5" font-style="italic" x="351.8" y="112" textLength="7.5" lengthAdjust="spacingAndGlyphs">R</text>
<text font-size="6.4" x="360.1" y="108.3">2</text>
<text font-size="9.5" x="366.1" y="112" fill="#6a6a6a" stroke="#6a6a6a" stroke-width="0.3" textLength="5.3" lengthAdjust="spacingAndGlyphs">=</text>
<text font-size="9.5" x="375" y="112" textLength="18.4" lengthAdjust="spacingAndGlyphs">0.92</text>
<text font-size="9" x="352.8" y="126.5" textLength="15.7" lengthAdjust="spacingAndGlyphs">NSE</text>
<text font-size="9.5" x="369.7" y="126.5" fill="#6a6a6a" stroke="#6a6a6a" stroke-width="0.3" textLength="5.3" lengthAdjust="spacingAndGlyphs">=</text>
<text font-size="9.5" x="378.5" y="126.5" textLength="18.4" lengthAdjust="spacingAndGlyphs">0.73</text>
</g>
<text font-family="Liberation Sans, sans-serif" font-size="11" fill="#161616" x="292.5" y="134">(C)</text>
<g stroke="#d8d8d8" stroke-width="0.8" stroke-dasharray="1.3,1.2"><line x1="409.5" y1="29.3" x2="525.5" y2="29.3"/><line x1="409.5" y1="36.1" x2="525.5" y2="36.1"/><line x1="409.5" y1="42.9" x2="525.5" y2="42.9"/><line x1="415.5" y1="22.5" x2="415.5" y2="56.5"/><line x1="439.9" y1="22.5" x2="439.9" y2="56.5"/><line x1="464.3" y1="22.5" x2="464.3" y2="56.5"/><line x1="488.7" y1="22.5" x2="488.7" y2="56.5"/><line x1="513.1" y1="22.5" x2="513.1" y2="56.5"/></g>
<line x1="410" y1="50" x2="525" y2="50" stroke="#70f0f4" stroke-width="1.6" stroke-dasharray="2,1.3"/>
<clipPath id="csDr"><rect x="409.5" y="19.5" width="79" height="40"/><rect x="495.5" y="19.5" width="13" height="40"/><rect x="999" y="19.5" width="-439" height="40"/></clipPath>
<path d="M414.5,38.2 C414.73,38.12 417.63,37.05 418,37 C418.37,36.95 419.63,37.6 420,37.5 C420.37,37.4 423.03,35.63 423.5,35.5 C423.97,35.37 426.5,35.37 427,35.5 C427.5,35.63 430.53,37.28 431,37.5 C431.47,37.72 433.6,38.69 434,38.8 C434.4,38.91 436.53,39.31 437,39.2 C437.47,39.09 440.47,37.51 441,37.2 C441.53,36.89 444.6,34.66 445,34.5 C445.4,34.34 446.67,34.6 447,34.8 C447.33,35 449.67,37.25 450,37.5 C450.33,37.75 451.67,38.2 452,38.5 C452.33,38.8 454.6,41.71 455,42 C455.4,42.29 457.53,42.53 458,42.8 C458.47,43.07 461.53,45.73 462,46 C462.47,46.27 464.43,46.93 465,46.8 C465.57,46.67 469.93,44.09 470.5,44 C471.07,43.91 473,45.67 473.5,45.5 C474,45.33 477.47,41.4 478,41.5 C478.53,41.6 481.1,46.6 481.5,47 C481.9,47.4 483.53,47.33 484,47.5 C484.47,47.67 487.97,49.32 488.5,49.5 C489.03,49.68 491.53,50.2 492,50.2 C492.47,50.2 495.07,49.78 495.5,49.5 C495.93,49.22 498.17,46.1 498.5,46 C498.83,45.9 500.17,48.05 500.5,48 C500.83,47.95 502.97,45.13 503.5,45.2 C504.03,45.27 507.73,48.53 508.5,49 C509.27,49.47 514.3,52.17 515,52.2 C515.7,52.23 518.6,49.66 519,49.5 C519.4,49.34 520.87,49.78 521,49.8" fill="none" stroke="#f51414" stroke-width="1.65" stroke-linejoin="round" stroke-linecap="butt" clip-path="url(#csDr)"/>
<clipPath id="csDb"><rect x="488.5" y="19.5" width="7" height="40"/><rect x="508.5" y="19.5" width="51.5" height="40"/></clipPath>
<path d="M414.5,38.2 C414.73,38.12 417.63,37.05 418,37 C418.37,36.95 419.63,37.6 420,37.5 C420.37,37.4 423.03,35.63 423.5,35.5 C423.97,35.37 426.5,35.37 427,35.5 C427.5,35.63 430.53,37.28 431,37.5 C431.47,37.72 433.6,38.69 434,38.8 C434.4,38.91 436.53,39.31 437,39.2 C437.47,39.09 440.47,37.51 441,37.2 C441.53,36.89 444.6,34.66 445,34.5 C445.4,34.34 446.67,34.6 447,34.8 C447.33,35 449.67,37.25 450,37.5 C450.33,37.75 451.67,38.2 452,38.5 C452.33,38.8 454.6,41.71 455,42 C455.4,42.29 457.53,42.53 458,42.8 C458.47,43.07 461.53,45.73 462,46 C462.47,46.27 464.43,46.93 465,46.8 C465.57,46.67 469.93,44.09 470.5,44 C471.07,43.91 473,45.67 473.5,45.5 C474,45.33 477.47,41.4 478,41.5 C478.53,41.6 481.1,46.6 481.5,47 C481.9,47.4 483.53,47.33 484,47.5 C484.47,47.67 487.97,49.32 488.5,49.5 C489.03,49.68 491.53,50.2 492,50.2 C492.47,50.2 495.07,49.78 495.5,49.5 C495.93,49.22 498.17,46.1 498.5,46 C498.83,45.9 500.17,48.05 500.5,48 C500.83,47.95 502.97,45.13 503.5,45.2 C504.03,45.27 507.73,48.53 508.5,49 C509.27,49.47 514.3,52.17 515,52.2 C515.7,52.23 518.6,49.66 519,49.5 C519.4,49.34 520.87,49.78 521,49.8" fill="none" stroke="#1f3ff0" stroke-width="1.65" stroke-linejoin="round" stroke-linecap="butt" clip-path="url(#csDb)"/>
<rect x="409.5" y="22.5" width="116" height="34" fill="none" stroke="#6a6a6a" stroke-width="1.25"/>
<g stroke="#6a6a6a" stroke-width="0.8"><line x1="407.7" y1="22.5" x2="409.5" y2="22.5"/><line x1="407.7" y1="29.3" x2="409.5" y2="29.3"/><line x1="407.7" y1="36.1" x2="409.5" y2="36.1"/><line x1="407.7" y1="42.9" x2="409.5" y2="42.9"/><line x1="407.7" y1="49.7" x2="409.5" y2="49.7"/><line x1="407.7" y1="56.5" x2="409.5" y2="56.5"/><line x1="415.5" y1="56.5" x2="415.5" y2="58.3"/><line x1="439.9" y1="56.5" x2="439.9" y2="58.3"/><line x1="464.3" y1="56.5" x2="464.3" y2="58.3"/><line x1="488.7" y1="56.5" x2="488.7" y2="58.3"/><line x1="513.1" y1="56.5" x2="513.1" y2="58.3"/></g>
<g stroke="#d8d8d8" stroke-width="0.8" stroke-dasharray="1.3,1.2"><line x1="409.5" y1="178" x2="525.5" y2="178"/><line x1="409.5" y1="148.5" x2="525.5" y2="148.5"/><line x1="409.5" y1="119" x2="525.5" y2="119"/><line x1="409.5" y1="89.5" x2="525.5" y2="89.5"/><line x1="415.7" y1="60" x2="415.7" y2="207.5"/><line x1="439.7" y1="60" x2="439.7" y2="207.5"/><line x1="463.7" y1="60" x2="463.7" y2="207.5"/><line x1="487.7" y1="60" x2="487.7" y2="207.5"/><line x1="511.7" y1="60" x2="511.7" y2="207.5"/></g>
<g clip-path="url(#cqD)"><rect x="415" y="60.5" width="2.55" height="1.5" fill="url(#pY)"/><rect x="418.5" y="60.5" width="2.05" height="1" fill="url(#pY)"/><rect x="421.5" y="60.5" width="2.05" height="1.5" fill="url(#pY)"/><rect x="424" y="60.5" width="2.05" height="1" fill="url(#pY)"/><rect x="427" y="60.5" width="2.05" height="6.5" fill="url(#pM)"/><rect x="427" y="67" width="2.05" height="6" fill="url(#pY)"/><rect x="427" y="73" width="2.05" height="9" fill="url(#pB)"/><rect x="429.5" y="60.5" width="2.05" height="5.5" fill="url(#pM)"/><rect x="429.5" y="66" width="2.05" height="5" fill="url(#pY)"/><rect x="429.5" y="71" width="2.05" height="12" fill="url(#pB)"/><rect x="432" y="60.5" width="2.05" height="3.5" fill="url(#pM)"/><rect x="432" y="64" width="2.05" height="5" fill="url(#pY)"/><rect x="432" y="69" width="2.05" height="8" fill="url(#pB)"/><rect x="434.5" y="60.5" width="2.05" height="4.5" fill="url(#pM)"/><rect x="434.5" y="65" width="2.05" height="10" fill="url(#pY)"/><rect x="434.5" y="75" width="2.05" height="15" fill="url(#pB)"/><rect x="437" y="60.5" width="1.55" height="2.5" fill="url(#pY)"/><rect x="437" y="63" width="1.55" height="3" fill="url(#pB)"/><rect x="439" y="60.5" width="2.05" height="2.5" fill="url(#pM)"/><rect x="439" y="63" width="2.05" height="7" fill="url(#pY)"/><rect x="439" y="70" width="2.05" height="8" fill="url(#pB)"/><rect x="441.5" y="60.5" width="1.55" height="2.5" fill="url(#pM)"/><rect x="441.5" y="63" width="1.55" height="5" fill="url(#pY)"/><rect x="441.5" y="68" width="1.55" height="2" fill="url(#pB)"/><rect x="443.5" y="60.5" width="2.05" height="1.5" fill="url(#pM)"/><rect x="443.5" y="62" width="2.05" height="3.5" fill="url(#pY)"/><rect x="446" y="60.5" width="2.05" height="8.5" fill="url(#pM)"/><rect x="446" y="69" width="2.05" height="12" fill="url(#pY)"/><rect x="446" y="81" width="2.05" height="5" fill="url(#pB)"/><rect x="448.5" y="60.5" width="1.55" height="11.5" fill="url(#pM)"/><rect x="448.5" y="72" width="1.55" height="15" fill="url(#pY)"/><rect x="448.5" y="87" width="1.55" height="15" fill="url(#pB)"/><rect x="451" y="60.5" width="2.05" height="1.5" fill="url(#pY)"/><rect x="451" y="62" width="2.05" height="3" fill="url(#pB)"/><rect x="453.5" y="60.5" width="3.05" height="2.5" fill="url(#pB)"/><rect x="463" y="60.5" width="2.55" height="5" fill="url(#pB)"/><rect x="466" y="60.5" width="2.05" height="1.5" fill="url(#pB)"/><rect x="469" y="60.5" width="3.55" height="1.5" fill="url(#pB)"/><rect x="474.5" y="60.5" width="2.05" height="5.5" fill="url(#pB)"/><rect x="477" y="60.5" width="2.05" height="6.5" fill="url(#pB)"/><rect x="479.5" y="60.5" width="2.05" height="5.5" fill="url(#pB)"/><rect x="482" y="60.5" width="2.05" height="7" fill="url(#pB)"/><rect x="484.5" y="60.5" width="2.05" height="6" fill="url(#pB)"/><rect x="487" y="60.5" width="2.05" height="7.5" fill="url(#pB)"/><rect x="489.5" y="60.5" width="2.05" height="6.5" fill="url(#pB)"/><rect x="492" y="60.5" width="2.05" height="5.5" fill="url(#pB)"/><rect x="494.5" y="60.5" width="2.05" height="6.5" fill="url(#pB)"/><rect x="498.5" y="60.5" width="2.05" height="8" fill="url(#pB)"/><rect x="501" y="60.5" width="2.55" height="3.5" fill="url(#pB)"/><rect x="505.5" y="60.5" width="1.55" height="2.5" fill="url(#pB)"/><rect x="508.5" y="60.5" width="2.05" height="2" fill="url(#pB)"/><rect x="513" y="60.5" width="2.05" height="2.5" fill="url(#pB)"/><rect x="517" y="60.5" width="2.05" height="1.5" fill="url(#pB)"/></g>
<path d="M415.4,203 C417.55,202.93 425.25,203.93 428.3,202.6 C431.35,201.27 432.08,197.52 433.7,195 C435.32,192.48 436.75,188.57 438,187.5 C439.25,186.43 439.77,188.25 441.2,188.6 C442.63,188.95 445.17,191.03 446.6,189.6 C448.03,188.17 448.83,183.67 449.8,180 C450.77,176.33 451.5,167.95 452.4,167.6 C453.3,167.25 454.2,173.87 455.2,177.9 C456.2,181.93 457.17,188.23 458.4,191.8 C459.63,195.37 460.83,197.7 462.6,199.3 C464.37,200.9 466.48,201.05 469,201.4 C471.52,201.75 475.37,201.75 477.7,201.4 C480.03,201.05 481.22,199.3 483,199.3 C484.78,199.3 486.43,200.87 488.4,201.4 C490.37,201.93 491.95,202.22 494.8,202.5 C497.65,202.78 501.2,203 505.5,203.1 C509.8,203.2 518.08,203.1 520.6,203.1" fill="none" stroke="#e0123c" stroke-width="1.3" stroke-linejoin="round" stroke-linecap="round" clip-path="url(#cqD)"/>
<path d="M415.4,203 C417.37,202.93 424.68,202.87 427.2,202.6 C429.72,202.33 429.07,203.38 430.5,201.4 C431.93,199.42 434.02,194.27 435.8,190.7 C437.58,187.13 439.4,182.78 441.2,180 C443,177.22 445.22,175.58 446.6,174 C447.98,172.42 448.5,171.75 449.5,170.5 C450.5,169.25 451.12,165.63 452.6,166.5 C454.08,167.37 456.73,172.73 458.4,175.7 C460.07,178.67 461,181.98 462.6,184.3 C464.2,186.62 465.85,188.17 468,189.6 C470.15,191.03 473.53,192.17 475.5,192.9 C477.47,193.63 478.02,193.22 479.8,194 C481.58,194.78 483.7,196.53 486.2,197.6 C488.7,198.67 491.58,199.67 494.8,200.4 C498.02,201.13 501.2,201.55 505.5,202 C509.8,202.45 518.08,202.92 520.6,203.1" fill="none" stroke="#0a0a0a" stroke-width="1.5" stroke-linejoin="round" stroke-linecap="round" clip-path="url(#cqD)"/>
<rect x="409.5" y="60" width="116" height="147.5" fill="none" stroke="#6a6a6a" stroke-width="1.25"/>
<g stroke="#6a6a6a" stroke-width="0.8"><line x1="407.7" y1="207.5" x2="409.5" y2="207.5"/><line x1="407.7" y1="178" x2="409.5" y2="178"/><line x1="407.7" y1="148.5" x2="409.5" y2="148.5"/><line x1="407.7" y1="119" x2="409.5" y2="119"/><line x1="407.7" y1="89.5" x2="409.5" y2="89.5"/><line x1="525.5" y1="60" x2="527.3" y2="60"/><line x1="525.5" y1="89.5" x2="527.3" y2="89.5"/><line x1="525.5" y1="119" x2="527.3" y2="119"/><line x1="525.5" y1="148.5" x2="527.3" y2="148.5"/><line x1="525.5" y1="178" x2="527.3" y2="178"/><line x1="415.7" y1="207.5" x2="415.7" y2="209.3"/><line x1="439.7" y1="207.5" x2="439.7" y2="209.3"/><line x1="463.7" y1="207.5" x2="463.7" y2="209.3"/><line x1="487.7" y1="207.5" x2="487.7" y2="209.3"/><line x1="511.7" y1="207.5" x2="511.7" y2="209.3"/></g>
<g font-family="Liberation Sans, sans-serif" font-size="6.7" fill="#222"><text x="415.7" y="217.1" text-anchor="middle">0</text><text x="439.7" y="217.1" text-anchor="middle">10</text><text x="463.7" y="217.1" text-anchor="middle">20</text><text x="487.7" y="217.1" text-anchor="middle">30</text><text x="511.7" y="217.1" text-anchor="middle">40</text></g>
<g font-family="Liberation Sans, sans-serif" font-size="6.7" fill="#222"><text x="529.5" y="62.4">0</text><text x="529.5" y="91.9">4</text><text x="529.5" y="121.4">8</text><text x="529.5" y="150.9">12</text><text x="529.5" y="180.4">16</text></g>
<g font-family="Liberation Sans, sans-serif" fill="#161616">
<text font-size="9.5" font-style="italic" x="478.8" y="112" textLength="7.5" lengthAdjust="spacingAndGlyphs">R</text>
<text font-size="6.4" x="487.1" y="108.3">2</text>
<text font-size="9.5" x="493.1" y="112" fill="#6a6a6a" stroke="#6a6a6a" stroke-width="0.3" textLength="5.3" lengthAdjust="spacingAndGlyphs">=</text>
<text font-size="9.5" x="502" y="112" textLength="18.4" lengthAdjust="spacingAndGlyphs">0.88</text>
<text font-size="9" x="479.8" y="126.5" textLength="15.7" lengthAdjust="spacingAndGlyphs">NSE</text>
<text font-size="9.5" x="496.7" y="126.5" fill="#6a6a6a" stroke="#6a6a6a" stroke-width="0.3" textLength="5.3" lengthAdjust="spacingAndGlyphs">=</text>
<text font-size="9.5" x="505.5" y="126.5" textLength="18.4" lengthAdjust="spacingAndGlyphs">0.61</text>
</g>
<text font-family="Liberation Sans, sans-serif" font-size="11" fill="#161616" x="419.5" y="134">(D)</text>
<g stroke="#d8d8d8" stroke-width="0.8" stroke-dasharray="1.3,1.2"><line x1="27.5" y1="233.3" x2="143.5" y2="233.3"/><line x1="27.5" y1="240.1" x2="143.5" y2="240.1"/><line x1="27.5" y1="246.9" x2="143.5" y2="246.9"/><line x1="33.2" y1="226.5" x2="33.2" y2="260.5"/><line x1="53.45" y1="226.5" x2="53.45" y2="260.5"/><line x1="73.7" y1="226.5" x2="73.7" y2="260.5"/><line x1="93.95" y1="226.5" x2="93.95" y2="260.5"/><line x1="114.2" y1="226.5" x2="114.2" y2="260.5"/><line x1="134.45" y1="226.5" x2="134.45" y2="260.5"/></g>
<line x1="28" y1="254" x2="143" y2="254" stroke="#70f0f4" stroke-width="1.6" stroke-dasharray="2,1.3"/>
<path d="M32.5,235.5 C32.93,235.47 38.17,235.03 39,235 C39.83,234.97 44.07,235.11 45,235 C45.93,234.89 52.27,233.4 53,233.3 C53.73,233.2 55.47,233.44 56,233.5 C56.53,233.56 60.33,234.17 61,234.2 C61.67,234.23 65.2,234.11 66,234 C66.8,233.89 72.27,232.57 73,232.5 C73.73,232.43 76.4,232.85 77,233 C77.6,233.15 81.13,234.63 82,234.8 C82.87,234.97 89.07,235.41 90,235.5 C90.93,235.59 95.33,236.07 96,236.2 C96.67,236.33 99.4,237.35 100,237.5 C100.6,237.65 104.4,238.5 105,238.5 C105.6,238.5 108.33,237.55 109,237.5 C109.67,237.45 114.27,237.75 115,237.8 C115.73,237.85 119.33,238.15 120,238.2 C120.67,238.25 124.33,238.49 125,238.5 C125.67,238.51 129.4,238.37 130,238.3 C130.6,238.23 133.57,237.52 134,237.5 C134.43,237.48 136.17,237.87 136.5,238 C136.83,238.13 138.83,239.4 139,239.5" fill="none" stroke="#f51414" stroke-width="1.65" stroke-linejoin="round" stroke-linecap="round" clip-path="url(#ctE)"/>
<rect x="27.5" y="226.5" width="116" height="34" fill="none" stroke="#6a6a6a" stroke-width="1.25"/>
<g stroke="#6a6a6a" stroke-width="0.8"><line x1="25.7" y1="226.5" x2="27.5" y2="226.5"/><line x1="25.7" y1="233.3" x2="27.5" y2="233.3"/><line x1="25.7" y1="240.1" x2="27.5" y2="240.1"/><line x1="25.7" y1="246.9" x2="27.5" y2="246.9"/><line x1="25.7" y1="253.7" x2="27.5" y2="253.7"/><line x1="25.7" y1="260.5" x2="27.5" y2="260.5"/><line x1="33.2" y1="260.5" x2="33.2" y2="262.3"/><line x1="53.45" y1="260.5" x2="53.45" y2="262.3"/><line x1="73.7" y1="260.5" x2="73.7" y2="262.3"/><line x1="93.95" y1="260.5" x2="93.95" y2="262.3"/><line x1="114.2" y1="260.5" x2="114.2" y2="262.3"/><line x1="134.45" y1="260.5" x2="134.45" y2="262.3"/></g>
<g font-family="Liberation Sans, sans-serif" font-size="6.7" fill="#222"><text x="23.5" y="228.8" text-anchor="end">12</text><text x="23.5" y="235.6" text-anchor="end">9</text><text x="23.5" y="242.4" text-anchor="end">6</text><text x="23.5" y="249.2" text-anchor="end">3</text><text x="23.5" y="256" text-anchor="end">0</text><text x="23.5" y="262.8" text-anchor="end">−3</text></g>
<g stroke="#d8d8d8" stroke-width="0.8" stroke-dasharray="1.3,1.2"><line x1="27.5" y1="382" x2="143.5" y2="382"/><line x1="27.5" y1="352.5" x2="143.5" y2="352.5"/><line x1="27.5" y1="323" x2="143.5" y2="323"/><line x1="27.5" y1="293.5" x2="143.5" y2="293.5"/><line x1="34.3" y1="264" x2="34.3" y2="411.5"/><line x1="54.5" y1="264" x2="54.5" y2="411.5"/><line x1="74.7" y1="264" x2="74.7" y2="411.5"/><line x1="94.9" y1="264" x2="94.9" y2="411.5"/><line x1="115.1" y1="264" x2="115.1" y2="411.5"/><line x1="135.3" y1="264" x2="135.3" y2="411.5"/></g>
<g clip-path="url(#cqE)"><rect x="33" y="264" width="3.55" height="3" fill="url(#pY)"/><rect x="37" y="264" width="3.55" height="3" fill="url(#pY)"/><rect x="41" y="264" width="3.55" height="3" fill="url(#pY)"/><rect x="45" y="264" width="3.55" height="3" fill="url(#pY)"/><rect x="49" y="264" width="3.55" height="3" fill="url(#pY)"/><rect x="53" y="264" width="3.55" height="3" fill="url(#pY)"/><rect x="57" y="264" width="3.55" height="3" fill="url(#pY)"/><rect x="61" y="264" width="3.55" height="3" fill="url(#pY)"/><rect x="65" y="264" width="3.55" height="3" fill="url(#pY)"/><rect x="69" y="264" width="3.55" height="3" fill="url(#pY)"/><rect x="73" y="264" width="3.55" height="3" fill="url(#pY)"/><rect x="77" y="264" width="3.55" height="3" fill="url(#pY)"/><rect x="81" y="264.5" width="3.55" height="3" fill="url(#pM)"/><rect x="81" y="267.5" width="3.55" height="5.5" fill="url(#pY)"/><rect x="85" y="264.5" width="3.05" height="6" fill="url(#pM)"/><rect x="85" y="270.5" width="3.05" height="7.5" fill="url(#pY)"/><rect x="85" y="278" width="3.05" height="0.5" fill="url(#pB)"/><rect x="88.5" y="264.5" width="3.55" height="3" fill="url(#pM)"/><rect x="88.5" y="267.5" width="3.55" height="5.5" fill="url(#pY)"/><rect x="92.5" y="264.5" width="3.55" height="2.5" fill="url(#pM)"/><rect x="92.5" y="267" width="3.55" height="4" fill="url(#pY)"/><rect x="97" y="264" width="2.55" height="2" fill="url(#pY)"/><rect x="101" y="264" width="2.55" height="3" fill="url(#pY)"/><rect x="105" y="264" width="2.55" height="1.8" fill="url(#pY)"/><rect x="109" y="264" width="3.05" height="3" fill="url(#pY)"/><rect x="113" y="264" width="2.55" height="1.8" fill="url(#pY)"/><rect x="117" y="264" width="2.55" height="1.5" fill="url(#pY)"/><rect x="121" y="264" width="2.55" height="1.8" fill="url(#pY)"/><rect x="125" y="264" width="2.55" height="1.5" fill="url(#pY)"/><rect x="129" y="264" width="2.55" height="1.5" fill="url(#pY)"/><rect x="133" y="264" width="2.55" height="1.5" fill="url(#pY)"/></g>
<path d="M34.5,396.1 C36.83,395.85 44.38,394.95 48.5,394.6 C52.62,394.25 55.63,393.93 59.2,394 C62.77,394.07 66.33,395 69.9,395 C73.47,395 78.08,395.23 80.6,394 C83.12,392.77 83.57,389.75 85,387.6 C86.43,385.45 87.78,382.62 89.2,381.1 C90.62,379.58 92.25,378.68 93.5,378.5 C94.75,378.32 95.27,378.48 96.7,380 C98.13,381.52 100.13,385.45 102.1,387.6 C104.07,389.75 106.35,391.83 108.5,392.9 C110.65,393.97 112.48,393.72 115,394 C117.52,394.28 119.67,394.13 123.6,394.6 C127.53,395.07 136.1,396.43 138.6,396.8" fill="none" stroke="#e0123c" stroke-width="1.3" stroke-linejoin="round" stroke-linecap="round" clip-path="url(#cqE)"/>
<path d="M34.5,395.7 C36.83,395.42 44.38,394.47 48.5,394 C52.62,393.53 55.63,393.08 59.2,392.9 C62.77,392.72 66.33,392.78 69.9,392.9 C73.47,393.02 78.27,393.95 80.6,393.6 C82.93,393.25 82.63,392.35 83.9,390.8 C85.17,389.25 86.6,385.92 88.2,384.3 C89.8,382.68 91.97,381.98 93.5,381.1 C95.03,380.22 95.97,379 97.4,379 C98.83,379 100.42,380.1 102.1,381.1 C103.78,382.1 105.35,383.92 107.5,385 C109.65,386.08 112.68,386.63 115,387.6 C117.32,388.57 118.9,389.67 121.4,390.8 C123.9,391.93 127.13,393.4 130,394.4 C132.87,395.4 137.17,396.4 138.6,396.8" fill="none" stroke="#0a0a0a" stroke-width="1.5" stroke-linejoin="round" stroke-linecap="round" clip-path="url(#cqE)"/>
<rect x="27.5" y="264" width="116" height="147.5" fill="none" stroke="#6a6a6a" stroke-width="1.25"/>
<g stroke="#6a6a6a" stroke-width="0.8"><line x1="25.7" y1="411.5" x2="27.5" y2="411.5"/><line x1="25.7" y1="382" x2="27.5" y2="382"/><line x1="25.7" y1="352.5" x2="27.5" y2="352.5"/><line x1="25.7" y1="323" x2="27.5" y2="323"/><line x1="25.7" y1="293.5" x2="27.5" y2="293.5"/><line x1="143.5" y1="264" x2="145.3" y2="264"/><line x1="143.5" y1="293.5" x2="145.3" y2="293.5"/><line x1="143.5" y1="323" x2="145.3" y2="323"/><line x1="143.5" y1="352.5" x2="145.3" y2="352.5"/><line x1="143.5" y1="382" x2="145.3" y2="382"/><line x1="34.3" y1="411.5" x2="34.3" y2="413.3"/><line x1="54.5" y1="411.5" x2="54.5" y2="413.3"/><line x1="74.7" y1="411.5" x2="74.7" y2="413.3"/><line x1="94.9" y1="411.5" x2="94.9" y2="413.3"/><line x1="115.1" y1="411.5" x2="115.1" y2="413.3"/><line x1="135.3" y1="411.5" x2="135.3" y2="413.3"/></g>
<g font-family="Liberation Sans, sans-serif" font-size="6.7" fill="#222"><text x="34.3" y="421.1" text-anchor="middle">0</text><text x="54.5" y="421.1" text-anchor="middle">5</text><text x="74.7" y="421.1" text-anchor="middle">10</text><text x="94.9" y="421.1" text-anchor="middle">15</text><text x="115.1" y="421.1" text-anchor="middle">20</text><text x="135.3" y="421.1" text-anchor="middle">25</text></g>
<g font-family="Liberation Sans, sans-serif" font-size="6.7" fill="#222"><text x="23.8" y="413.9" text-anchor="end">0</text><text x="23.8" y="384.4" text-anchor="end">5</text><text x="23.8" y="354.9" text-anchor="end">10</text><text x="23.8" y="325.4" text-anchor="end">15</text><text x="23.8" y="295.9" text-anchor="end">20</text></g>
<g font-family="Liberation Sans, sans-serif" fill="#161616">
<text font-size="9.5" font-style="italic" x="96.8" y="316" textLength="7.5" lengthAdjust="spacingAndGlyphs">R</text>
<text font-size="6.4" x="105.1" y="312.3">2</text>
<text font-size="9.5" x="111.1" y="316" fill="#6a6a6a" stroke="#6a6a6a" stroke-width="0.3" textLength="5.3" lengthAdjust="spacingAndGlyphs">=</text>
<text font-size="9.5" x="120" y="316" textLength="18.4" lengthAdjust="spacingAndGlyphs">0.86</text>
<text font-size="9" x="97.8" y="330.5" textLength="15.7" lengthAdjust="spacingAndGlyphs">NSE</text>
<text font-size="9.5" x="114.7" y="330.5" fill="#6a6a6a" stroke="#6a6a6a" stroke-width="0.3" textLength="5.3" lengthAdjust="spacingAndGlyphs">=</text>
<text font-size="9.5" x="123.5" y="330.5" textLength="18.4" lengthAdjust="spacingAndGlyphs">0.55</text>
</g>
<text font-family="Liberation Sans, sans-serif" font-size="11" fill="#161616" x="37.5" y="338">(E)</text>
<g stroke="#d8d8d8" stroke-width="0.8" stroke-dasharray="1.3,1.2"><line x1="154.5" y1="233.3" x2="270.5" y2="233.3"/><line x1="154.5" y1="240.1" x2="270.5" y2="240.1"/><line x1="154.5" y1="246.9" x2="270.5" y2="246.9"/><line x1="160.3" y1="226.5" x2="160.3" y2="260.5"/><line x1="183.18" y1="226.5" x2="183.18" y2="260.5"/><line x1="206.05" y1="226.5" x2="206.05" y2="260.5"/><line x1="228.93" y1="226.5" x2="228.93" y2="260.5"/><line x1="251.8" y1="226.5" x2="251.8" y2="260.5"/></g>
<line x1="155" y1="254" x2="270" y2="254" stroke="#70f0f4" stroke-width="1.6" stroke-dasharray="2,1.3"/>
<clipPath id="csFr"><rect x="154.5" y="223.5" width="87.5" height="40"/><rect x="999" y="223.5" width="-439" height="40"/></clipPath>
<path d="M160,238 C160.47,238 166.2,237.9 167,238 C167.8,238.1 171.27,239.27 172,239.5 C172.73,239.73 177.2,241.25 178,241.5 C178.8,241.75 183.2,243.02 184,243.2 C184.8,243.38 189.2,244.09 190,244.2 C190.8,244.31 195.2,244.85 196,244.8 C196.8,244.75 201.33,243.67 202,243.5 C202.67,243.33 205.4,242.26 206,242.2 C206.6,242.14 210.4,242.51 211,242.6 C211.6,242.69 214.47,243.13 215,243.5 C215.53,243.87 218.47,247.95 219,248.2 C219.53,248.45 222.4,247.08 223,247.2 C223.6,247.32 227.37,249.68 228,250 C228.63,250.32 231.87,251.93 232.5,252 C233.13,252.07 236.87,250.9 237.5,251 C238.13,251.1 241.37,253.27 242,253.5 C242.63,253.73 246.33,254.33 247,254.5 C247.67,254.67 251.4,255.93 252,256 C252.6,256.07 255.4,255.61 256,255.5 C256.6,255.39 260.37,254.4 261,254.3 C261.63,254.2 265.2,254.02 265.5,254" fill="none" stroke="#f51414" stroke-width="1.65" stroke-linejoin="round" stroke-linecap="butt" clip-path="url(#csFr)"/>
<clipPath id="csFb"><rect x="242" y="223.5" width="318" height="40"/></clipPath>
<path d="M160,238 C160.47,238 166.2,237.9 167,238 C167.8,238.1 171.27,239.27 172,239.5 C172.73,239.73 177.2,241.25 178,241.5 C178.8,241.75 183.2,243.02 184,243.2 C184.8,243.38 189.2,244.09 190,244.2 C190.8,244.31 195.2,244.85 196,244.8 C196.8,244.75 201.33,243.67 202,243.5 C202.67,243.33 205.4,242.26 206,242.2 C206.6,242.14 210.4,242.51 211,242.6 C211.6,242.69 214.47,243.13 215,243.5 C215.53,243.87 218.47,247.95 219,248.2 C219.53,248.45 222.4,247.08 223,247.2 C223.6,247.32 227.37,249.68 228,250 C228.63,250.32 231.87,251.93 232.5,252 C233.13,252.07 236.87,250.9 237.5,251 C238.13,251.1 241.37,253.27 242,253.5 C242.63,253.73 246.33,254.33 247,254.5 C247.67,254.67 251.4,255.93 252,256 C252.6,256.07 255.4,255.61 256,255.5 C256.6,255.39 260.37,254.4 261,254.3 C261.63,254.2 265.2,254.02 265.5,254" fill="none" stroke="#1f3ff0" stroke-width="1.65" stroke-linejoin="round" stroke-linecap="butt" clip-path="url(#csFb)"/>
<rect x="154.5" y="226.5" width="116" height="34" fill="none" stroke="#6a6a6a" stroke-width="1.25"/>
<g stroke="#6a6a6a" stroke-width="0.8"><line x1="152.7" y1="226.5" x2="154.5" y2="226.5"/><line x1="152.7" y1="233.3" x2="154.5" y2="233.3"/><line x1="152.7" y1="240.1" x2="154.5" y2="240.1"/><line x1="152.7" y1="246.9" x2="154.5" y2="246.9"/><line x1="152.7" y1="253.7" x2="154.5" y2="253.7"/><line x1="152.7" y1="260.5" x2="154.5" y2="260.5"/><line x1="160.3" y1="260.5" x2="160.3" y2="262.3"/><line x1="183.18" y1="260.5" x2="183.18" y2="262.3"/><line x1="206.05" y1="260.5" x2="206.05" y2="262.3"/><line x1="228.93" y1="260.5" x2="228.93" y2="262.3"/><line x1="251.8" y1="260.5" x2="251.8" y2="262.3"/></g>
<g stroke="#d8d8d8" stroke-width="0.8" stroke-dasharray="1.3,1.2"><line x1="154.5" y1="382" x2="270.5" y2="382"/><line x1="154.5" y1="352.5" x2="270.5" y2="352.5"/><line x1="154.5" y1="323" x2="270.5" y2="323"/><line x1="154.5" y1="293.5" x2="270.5" y2="293.5"/><line x1="162.2" y1="264" x2="162.2" y2="411.5"/><line x1="184.4" y1="264" x2="184.4" y2="411.5"/><line x1="206.6" y1="264" x2="206.6" y2="411.5"/><line x1="228.8" y1="264" x2="228.8" y2="411.5"/><line x1="251" y1="264" x2="251" y2="411.5"/></g>
<g clip-path="url(#cqF)"><rect x="160" y="264" width="3.55" height="1.5" fill="url(#pY)"/><rect x="164.5" y="264" width="3.55" height="1.5" fill="url(#pY)"/><rect x="169" y="264" width="3.55" height="1.5" fill="url(#pY)"/><rect x="173.5" y="264" width="3.55" height="1.5" fill="url(#pY)"/><rect x="178" y="264" width="3.55" height="1.5" fill="url(#pY)"/><rect x="182" y="264.5" width="3.55" height="4" fill="url(#pM)"/><rect x="182" y="268.5" width="3.55" height="4.5" fill="url(#pY)"/><rect x="182" y="273" width="3.55" height="1.5" fill="url(#pB)"/><rect x="186.5" y="264.5" width="3.55" height="4" fill="url(#pM)"/><rect x="186.5" y="268.5" width="3.55" height="4.5" fill="url(#pY)"/><rect x="186.5" y="273" width="3.55" height="0.5" fill="url(#pB)"/><rect x="191" y="264.5" width="3.55" height="4.5" fill="url(#pM)"/><rect x="191" y="269" width="3.55" height="6" fill="url(#pY)"/><rect x="191" y="275" width="3.55" height="1.5" fill="url(#pB)"/><rect x="195.5" y="264.5" width="3.05" height="1.5" fill="url(#pM)"/><rect x="195.5" y="266" width="3.05" height="3" fill="url(#pY)"/><rect x="200.5" y="264" width="3.05" height="1.5" fill="url(#pY)"/><rect x="204.5" y="264.5" width="3.05" height="1.5" fill="url(#pM)"/><rect x="204.5" y="266" width="3.05" height="2" fill="url(#pY)"/><rect x="208.5" y="264.5" width="3.05" height="3" fill="url(#pM)"/><rect x="208.5" y="267.5" width="3.05" height="5" fill="url(#pY)"/><rect x="213" y="264.5" width="3.55" height="15.5" fill="url(#pM)"/><rect x="213" y="280" width="3.55" height="18" fill="url(#pY)"/><rect x="213" y="298" width="3.55" height="5" fill="url(#pB)"/><rect x="218" y="264.5" width="3.05" height="7.5" fill="url(#pM)"/><rect x="218" y="272" width="3.05" height="7" fill="url(#pY)"/><rect x="218" y="279" width="3.05" height="10" fill="url(#pB)"/><rect x="226.5" y="264" width="3.55" height="2" fill="url(#pY)"/><rect x="226.5" y="266" width="3.55" height="1.5" fill="url(#pB)"/><rect x="231" y="264" width="3.55" height="2" fill="url(#pY)"/><rect x="231" y="266" width="3.55" height="1.5" fill="url(#pB)"/><rect x="236" y="264" width="3.55" height="2" fill="url(#pB)"/><rect x="240.5" y="264" width="3.55" height="2" fill="url(#pB)"/><rect x="245" y="264" width="3.55" height="2" fill="url(#pB)"/><rect x="249.5" y="264" width="3.55" height="2" fill="url(#pB)"/><rect x="254" y="264" width="3.55" height="2" fill="url(#pB)"/><rect x="258.5" y="264" width="4.05" height="2" fill="url(#pB)"/></g>
<path d="M162.5,405.1 C165.9,404.85 178.07,404.38 182.9,403.6 C187.73,402.82 188.63,401.28 191.5,400.4 C194.37,399.52 197.6,398.55 200.1,398.3 C202.6,398.05 204.65,398.65 206.5,398.9 C208.35,399.15 209.58,401.15 211.2,399.8 C212.82,398.45 214.3,394.38 216.2,390.8 C218.1,387.22 220.63,379.38 222.6,378.3 C224.57,377.22 226.22,381.68 228,384.3 C229.78,386.92 231.17,391.38 233.3,394 C235.43,396.62 237.75,398.47 240.8,400 C243.85,401.53 247.67,402.35 251.6,403.2 C255.53,404.05 262.27,404.78 264.4,405.1" fill="none" stroke="#e0123c" stroke-width="1.3" stroke-linejoin="round" stroke-linecap="round" clip-path="url(#cqF)"/>
<path d="M162.5,404.7 C164.83,404.52 173.1,404.32 176.5,403.6 C179.9,402.88 180.77,401.65 182.9,400.4 C185.03,399.15 187.15,397.17 189.3,396.1 C191.45,395.03 193.65,394.18 195.8,394 C197.95,393.82 199.88,394.53 202.2,395 C204.52,395.47 207.73,396.97 209.7,396.8 C211.67,396.63 212.57,396.08 214,394 C215.43,391.92 216.87,386.92 218.3,384.3 C219.73,381.68 221.35,379.02 222.6,378.3 C223.85,377.58 224.55,378.28 225.8,380 C227.05,381.72 228.32,385.92 230.1,388.6 C231.88,391.28 234,394.13 236.5,396.1 C239,398.07 241.87,399.15 245.1,400.4 C248.33,401.65 252.68,402.88 255.9,403.6 C259.12,404.32 262.98,404.52 264.4,404.7" fill="none" stroke="#0a0a0a" stroke-width="1.5" stroke-linejoin="round" stroke-linecap="round" clip-path="url(#cqF)"/>
<rect x="154.5" y="264" width="116" height="147.5" fill="none" stroke="#6a6a6a" stroke-width="1.25"/>
<g stroke="#6a6a6a" stroke-width="0.8"><line x1="152.7" y1="411.5" x2="154.5" y2="411.5"/><line x1="152.7" y1="382" x2="154.5" y2="382"/><line x1="152.7" y1="352.5" x2="154.5" y2="352.5"/><line x1="152.7" y1="323" x2="154.5" y2="323"/><line x1="152.7" y1="293.5" x2="154.5" y2="293.5"/><line x1="270.5" y1="264" x2="272.3" y2="264"/><line x1="270.5" y1="293.5" x2="272.3" y2="293.5"/><line x1="270.5" y1="323" x2="272.3" y2="323"/><line x1="270.5" y1="352.5" x2="272.3" y2="352.5"/><line x1="270.5" y1="382" x2="272.3" y2="382"/><line x1="162.2" y1="411.5" x2="162.2" y2="413.3"/><line x1="184.4" y1="411.5" x2="184.4" y2="413.3"/><line x1="206.6" y1="411.5" x2="206.6" y2="413.3"/><line x1="228.8" y1="411.5" x2="228.8" y2="413.3"/><line x1="251" y1="411.5" x2="251" y2="413.3"/></g>
<g font-family="Liberation Sans, sans-serif" font-size="6.7" fill="#222"><text x="162.2" y="421.1" text-anchor="middle">0</text><text x="184.4" y="421.1" text-anchor="middle">5</text><text x="206.6" y="421.1" text-anchor="middle">10</text><text x="228.8" y="421.1" text-anchor="middle">15</text><text x="251" y="421.1" text-anchor="middle">20</text></g>
<g font-family="Liberation Sans, sans-serif" fill="#161616">
<text font-size="9.5" font-style="italic" x="223.8" y="316" textLength="7.5" lengthAdjust="spacingAndGlyphs">R</text>
<text font-size="6.4" x="232.1" y="312.3">2</text>
<text font-size="9.5" x="238.1" y="316" fill="#6a6a6a" stroke="#6a6a6a" stroke-width="0.3" textLength="5.3" lengthAdjust="spacingAndGlyphs">=</text>
<text font-size="9.5" x="247" y="316" textLength="18.4" lengthAdjust="spacingAndGlyphs">0.97</text>
<text font-size="9" x="224.8" y="330.5" textLength="15.7" lengthAdjust="spacingAndGlyphs">NSE</text>
<text font-size="9.5" x="241.7" y="330.5" fill="#6a6a6a" stroke="#6a6a6a" stroke-width="0.3" textLength="5.3" lengthAdjust="spacingAndGlyphs">=</text>
<text font-size="9.5" x="250.5" y="330.5" textLength="18.4" lengthAdjust="spacingAndGlyphs">0.85</text>
</g>
<text font-family="Liberation Sans, sans-serif" font-size="11" fill="#161616" x="164.5" y="338">(F)</text>
<g stroke="#d8d8d8" stroke-width="0.8" stroke-dasharray="1.3,1.2"><line x1="282.5" y1="233.3" x2="399" y2="233.3"/><line x1="282.5" y1="240.1" x2="399" y2="240.1"/><line x1="282.5" y1="246.9" x2="399" y2="246.9"/><line x1="287.8" y1="226.5" x2="287.8" y2="260.5"/><line x1="308.85" y1="226.5" x2="308.85" y2="260.5"/><line x1="329.9" y1="226.5" x2="329.9" y2="260.5"/><line x1="350.95" y1="226.5" x2="350.95" y2="260.5"/><line x1="372" y1="226.5" x2="372" y2="260.5"/><line x1="393.05" y1="226.5" x2="393.05" y2="260.5"/></g>
<line x1="283" y1="254" x2="398.5" y2="254" stroke="#70f0f4" stroke-width="1.6" stroke-dasharray="2,1.3"/>
<path d="M287.5,244.5 C287.8,244.61 291.43,246.15 292,246.2 C292.57,246.25 295.47,245.27 296,245.2 C296.53,245.13 299.47,245.38 300,245.2 C300.53,245.02 303.47,242.78 304,242.5 C304.53,242.22 307.43,241.18 308,241 C308.57,240.82 311.87,239.77 312.5,239.8 C313.13,239.83 316.93,241.4 317.5,241.5 C318.07,241.6 320.5,241.38 321,241.3 C321.5,241.22 324.4,240.43 325,240.3 C325.6,240.17 329.33,239.32 330,239.3 C330.67,239.28 334.33,239.72 335,240 C335.67,240.28 339.33,243.11 340,243.5 C340.67,243.89 344.53,245.62 345,245.8 C345.47,245.98 346.63,246.29 347,246.2 C347.37,246.11 349.97,244.3 350.5,244.5 C351.03,244.7 354.4,249.07 355,249.2 C355.6,249.33 358.9,246.48 359.5,246.5 C360.1,246.52 363.43,249.15 364,249.5 C364.57,249.85 367.5,251.62 368,251.8 C368.5,251.98 370.97,252.42 371.5,252.2 C372.03,251.98 375.43,248.66 376,248.5 C376.57,248.34 379.43,249.8 380,249.8 C380.57,249.8 383.9,248.5 384.5,248.5 C385.1,248.5 388.43,249.58 389,249.8 C389.57,250.02 392.73,251.67 393,251.8" fill="none" stroke="#f51414" stroke-width="1.65" stroke-linejoin="round" stroke-linecap="round" clip-path="url(#ctG)"/>
<rect x="282.5" y="226.5" width="116.5" height="34" fill="none" stroke="#6a6a6a" stroke-width="1.25"/>
<g stroke="#6a6a6a" stroke-width="0.8"><line x1="280.7" y1="226.5" x2="282.5" y2="226.5"/><line x1="280.7" y1="233.3" x2="282.5" y2="233.3"/><line x1="280.7" y1="240.1" x2="282.5" y2="240.1"/><line x1="280.7" y1="246.9" x2="282.5" y2="246.9"/><line x1="280.7" y1="253.7" x2="282.5" y2="253.7"/><line x1="280.7" y1="260.5" x2="282.5" y2="260.5"/><line x1="287.8" y1="260.5" x2="287.8" y2="262.3"/><line x1="308.85" y1="260.5" x2="308.85" y2="262.3"/><line x1="329.9" y1="260.5" x2="329.9" y2="262.3"/><line x1="350.95" y1="260.5" x2="350.95" y2="262.3"/><line x1="372" y1="260.5" x2="372" y2="262.3"/><line x1="393.05" y1="260.5" x2="393.05" y2="262.3"/></g>
<g stroke="#d8d8d8" stroke-width="0.8" stroke-dasharray="1.3,1.2"><line x1="282.5" y1="382" x2="399" y2="382"/><line x1="282.5" y1="352.5" x2="399" y2="352.5"/><line x1="282.5" y1="323" x2="399" y2="323"/><line x1="282.5" y1="293.5" x2="399" y2="293.5"/><line x1="289.3" y1="264" x2="289.3" y2="411.5"/><line x1="310.35" y1="264" x2="310.35" y2="411.5"/><line x1="331.4" y1="264" x2="331.4" y2="411.5"/><line x1="352.45" y1="264" x2="352.45" y2="411.5"/><line x1="373.5" y1="264" x2="373.5" y2="411.5"/><line x1="394.55" y1="264" x2="394.55" y2="411.5"/></g>
<g clip-path="url(#cqG)"><rect x="292" y="264.5" width="3.05" height="1.5" fill="url(#pM)"/><rect x="292" y="266" width="3.05" height="2" fill="url(#pY)"/><rect x="292" y="268" width="3.05" height="1.5" fill="url(#pB)"/><rect x="296" y="264" width="2.55" height="1" fill="url(#pY)"/><rect x="296" y="265" width="2.55" height="0.5" fill="url(#pB)"/><rect x="299" y="264" width="2.55" height="1" fill="url(#pY)"/><rect x="299" y="265" width="2.55" height="0.5" fill="url(#pB)"/><rect x="305" y="264.5" width="2.55" height="0.5" fill="url(#pM)"/><rect x="305" y="265" width="2.55" height="2" fill="url(#pY)"/><rect x="309" y="264.5" width="3.05" height="5.5" fill="url(#pM)"/><rect x="309" y="270" width="3.05" height="5" fill="url(#pY)"/><rect x="309" y="275" width="3.05" height="1.5" fill="url(#pB)"/><rect x="313.5" y="264" width="2.55" height="1" fill="url(#pY)"/><rect x="317.5" y="264.5" width="3.05" height="3.5" fill="url(#pM)"/><rect x="317.5" y="268" width="3.05" height="4" fill="url(#pY)"/><rect x="317.5" y="272" width="3.05" height="0.5" fill="url(#pB)"/><rect x="321.5" y="264.5" width="3.05" height="4.5" fill="url(#pM)"/><rect x="321.5" y="269" width="3.05" height="5.5" fill="url(#pY)"/><rect x="321.5" y="274.5" width="3.05" height="0.5" fill="url(#pB)"/><rect x="326" y="264.5" width="3.05" height="8.5" fill="url(#pM)"/><rect x="326" y="273" width="3.05" height="8.5" fill="url(#pY)"/><rect x="326" y="281.5" width="3.05" height="1.5" fill="url(#pB)"/><rect x="330" y="264" width="3.05" height="3.5" fill="url(#pY)"/><rect x="334" y="264.5" width="3.55" height="1.5" fill="url(#pM)"/><rect x="334" y="266" width="3.55" height="4" fill="url(#pY)"/><rect x="338.5" y="264.5" width="3.05" height="5.5" fill="url(#pM)"/><rect x="338.5" y="270" width="3.05" height="5.5" fill="url(#pY)"/><rect x="338.5" y="275.5" width="3.05" height="0.5" fill="url(#pB)"/><rect x="342.5" y="264.5" width="3.55" height="14.5" fill="url(#pM)"/><rect x="342.5" y="279" width="3.55" height="16" fill="url(#pY)"/><rect x="342.5" y="295" width="3.55" height="4.5" fill="url(#pB)"/><rect x="347" y="264.5" width="3.05" height="3.5" fill="url(#pM)"/><rect x="347" y="268" width="3.05" height="3" fill="url(#pY)"/><rect x="347" y="271" width="3.05" height="3.5" fill="url(#pB)"/><rect x="355" y="264" width="3.55" height="2.5" fill="url(#pB)"/><rect x="371" y="264" width="3.55" height="1" fill="url(#pY)"/><rect x="371" y="265" width="3.55" height="2.5" fill="url(#pB)"/><rect x="384.5" y="264" width="2.55" height="1" fill="url(#pB)"/><rect x="389.5" y="264.5" width="3.05" height="1" fill="url(#pM)"/><rect x="389.5" y="265.5" width="3.05" height="1.5" fill="url(#pY)"/><rect x="389.5" y="267" width="3.05" height="3.5" fill="url(#pB)"/></g>
<path d="M289.5,406.2 C293.62,405.95 308.65,405.3 314.2,404.7 C319.75,404.1 319.93,403.85 322.8,402.6 C325.67,401.35 328.9,398.17 331.4,397.2 C333.9,396.23 336.02,397.7 337.8,396.8 C339.58,395.9 340.67,394.23 342.1,391.8 C343.53,389.37 345.05,384.42 346.4,382.2 C347.75,379.98 348.95,378.15 350.2,378.5 C351.45,378.85 352.38,381.55 353.9,384.3 C355.42,387.05 356.98,392.13 359.3,395 C361.62,397.87 364.58,399.98 367.8,401.5 C371.02,403.02 374.3,403.75 378.6,404.1 C382.9,404.45 391.1,403.68 393.6,403.6" fill="none" stroke="#e0123c" stroke-width="1.3" stroke-linejoin="round" stroke-linecap="round" clip-path="url(#cqG)"/>
<path d="M289.5,406.2 C291.83,406.13 299.38,406.05 303.5,405.8 C307.62,405.55 311.17,405.13 314.2,404.7 C317.23,404.27 319.38,404.02 321.7,403.2 C324.02,402.38 325.95,400.8 328.1,399.8 C330.25,398.8 332.8,397.92 334.6,397.2 C336.4,396.48 337.47,396.93 338.9,395.5 C340.33,394.07 341.77,391 343.2,388.6 C344.63,386.2 346.33,382.7 347.5,381.1 C348.67,379.5 349.32,379 350.2,379 C351.08,379 351.65,379.32 352.8,381.1 C353.95,382.88 355.32,387.2 357.1,389.7 C358.88,392.2 361,394.42 363.5,396.1 C366,397.78 368.87,398.72 372.1,399.8 C375.33,400.88 379.32,401.88 382.9,402.6 C386.48,403.32 391.82,403.85 393.6,404.1" fill="none" stroke="#0a0a0a" stroke-width="1.5" stroke-linejoin="round" stroke-linecap="round" clip-path="url(#cqG)"/>
<rect x="282.5" y="264" width="116.5" height="147.5" fill="none" stroke="#6a6a6a" stroke-width="1.25"/>
<g stroke="#6a6a6a" stroke-width="0.8"><line x1="280.7" y1="411.5" x2="282.5" y2="411.5"/><line x1="280.7" y1="382" x2="282.5" y2="382"/><line x1="280.7" y1="352.5" x2="282.5" y2="352.5"/><line x1="280.7" y1="323" x2="282.5" y2="323"/><line x1="280.7" y1="293.5" x2="282.5" y2="293.5"/><line x1="399" y1="264" x2="400.8" y2="264"/><line x1="399" y1="293.5" x2="400.8" y2="293.5"/><line x1="399" y1="323" x2="400.8" y2="323"/><line x1="399" y1="352.5" x2="400.8" y2="352.5"/><line x1="399" y1="382" x2="400.8" y2="382"/><line x1="289.3" y1="411.5" x2="289.3" y2="413.3"/><line x1="310.35" y1="411.5" x2="310.35" y2="413.3"/><line x1="331.4" y1="411.5" x2="331.4" y2="413.3"/><line x1="352.45" y1="411.5" x2="352.45" y2="413.3"/><line x1="373.5" y1="411.5" x2="373.5" y2="413.3"/><line x1="394.55" y1="411.5" x2="394.55" y2="413.3"/></g>
<g font-family="Liberation Sans, sans-serif" font-size="6.7" fill="#222"><text x="289.3" y="421.1" text-anchor="middle">0</text><text x="310.35" y="421.1" text-anchor="middle">5</text><text x="331.4" y="421.1" text-anchor="middle">10</text><text x="352.45" y="421.1" text-anchor="middle">15</text><text x="373.5" y="421.1" text-anchor="middle">20</text><text x="394.55" y="421.1" text-anchor="middle">25</text></g>
<g font-family="Liberation Sans, sans-serif" font-size="6.7" fill="#222"><text x="403" y="266.4">0</text><text x="403" y="295.9">4</text><text x="403" y="325.4">8</text><text x="403" y="354.9">12</text><text x="403" y="384.4">16</text></g>
<g font-family="Liberation Sans, sans-serif" fill="#161616">
<text font-size="9.5" font-style="italic" x="351.8" y="316" textLength="7.5" lengthAdjust="spacingAndGlyphs">R</text>
<text font-size="6.4" x="360.1" y="312.3">2</text>
<text font-size="9.5" x="366.1" y="316" fill="#6a6a6a" stroke="#6a6a6a" stroke-width="0.3" textLength="5.3" lengthAdjust="spacingAndGlyphs">=</text>
<text font-size="9.5" x="375" y="316" textLength="18.4" lengthAdjust="spacingAndGlyphs">0.97</text>
<text font-size="9" x="352.8" y="330.5" textLength="15.7" lengthAdjust="spacingAndGlyphs">NSE</text>
<text font-size="9.5" x="369.7" y="330.5" fill="#6a6a6a" stroke="#6a6a6a" stroke-width="0.3" textLength="5.3" lengthAdjust="spacingAndGlyphs">=</text>
<text font-size="9.5" x="378.5" y="330.5" textLength="18.4" lengthAdjust="spacingAndGlyphs">0.91</text>
</g>
<text font-family="Liberation Sans, sans-serif" font-size="11" fill="#161616" x="292.5" y="338">(G)</text>
<g font-family="Liberation Sans, sans-serif" stroke="#111" stroke-width="0.12" font-size="9.3" fill="#111" text-anchor="middle">
<text transform="translate(10.1,39.75) rotate(-90)" font-size="9" textLength="75.5" lengthAdjust="spacingAndGlyphs">Temperature (°C)</text>
<text transform="translate(12.3,134) rotate(-90)">Discharge (m³/s)</text>
<text transform="translate(10.1,243.75) rotate(-90)" font-size="9" textLength="75.5" lengthAdjust="spacingAndGlyphs">Temperature (°C)</text>
<text transform="translate(12.3,338) rotate(-90)">Discharge (m³/s)</text>
<text transform="translate(546.3,133.75) rotate(-90)" textLength="78" lengthAdjust="spacingAndGlyphs">Precipitation (mm)</text>
<text transform="translate(419.2,337.5) rotate(-90)" textLength="78" lengthAdjust="spacingAndGlyphs">Precipitation (mm)</text>
<text x="464.5" y="229.3">Time (Hours)</text>
<text x="85.5" y="430.4">Time (Hours)</text>
<text x="212.8" y="430.4">Time (Hours)</text>
<text x="340.7" y="430.4">Time (Hours)</text>
</g>
<g font-family="Liberation Sans, sans-serif" stroke="#111" stroke-width="0.12" font-size="8.6" fill="#111">
<rect x="431.5" y="260.8" width="106" height="15.4" rx="1.5" fill="#fff" stroke="#d8d8d8" stroke-width="0.8"/>
<line x1="434.5" y1="268.3" x2="447.5" y2="268.3" stroke="#70f0f4" stroke-width="1.6" stroke-dasharray="2,1.3"/>
<text x="450" y="271.3" textLength="85" lengthAdjust="spacingAndGlyphs">line at 0° temperature</text>
<rect x="433.3" y="286.5" width="102.2" height="36.5" rx="1.5" fill="#fff" stroke="#d8d8d8" stroke-width="0.8"/>
<rect x="436.5" y="290.2" width="15.5" height="5.5" fill="url(#pY)"/>
<rect x="436.5" y="302" width="15.5" height="5.4" fill="url(#pMl)"/>
<rect x="436.5" y="313" width="15.5" height="5.5" fill="url(#pB)"/>
<text x="458" y="296">Snowmelt</text>
<text x="458" y="307.5" textLength="74.5" lengthAdjust="spacingAndGlyphs">Liquid precipitation</text>
<text x="458" y="318.8">Snowfall</text>
<rect x="430.5" y="332.5" width="108.5" height="25" rx="1.5" fill="#fff" stroke="#d8d8d8" stroke-width="0.8"/>
<line x1="433" y1="338.7" x2="449.5" y2="338.7" stroke="#e0123c" stroke-width="1.4"/>
<line x1="433" y1="350" x2="449.5" y2="350" stroke="#0a0a0a" stroke-width="1.4"/>
<text x="455.5" y="341.6" textLength="80.5" lengthAdjust="spacingAndGlyphs">Simulated Discharge</text>
<text x="455.5" y="352.6" textLength="78" lengthAdjust="spacingAndGlyphs">Observed Discharge</text>
</g>
</svg>
</body></html>
